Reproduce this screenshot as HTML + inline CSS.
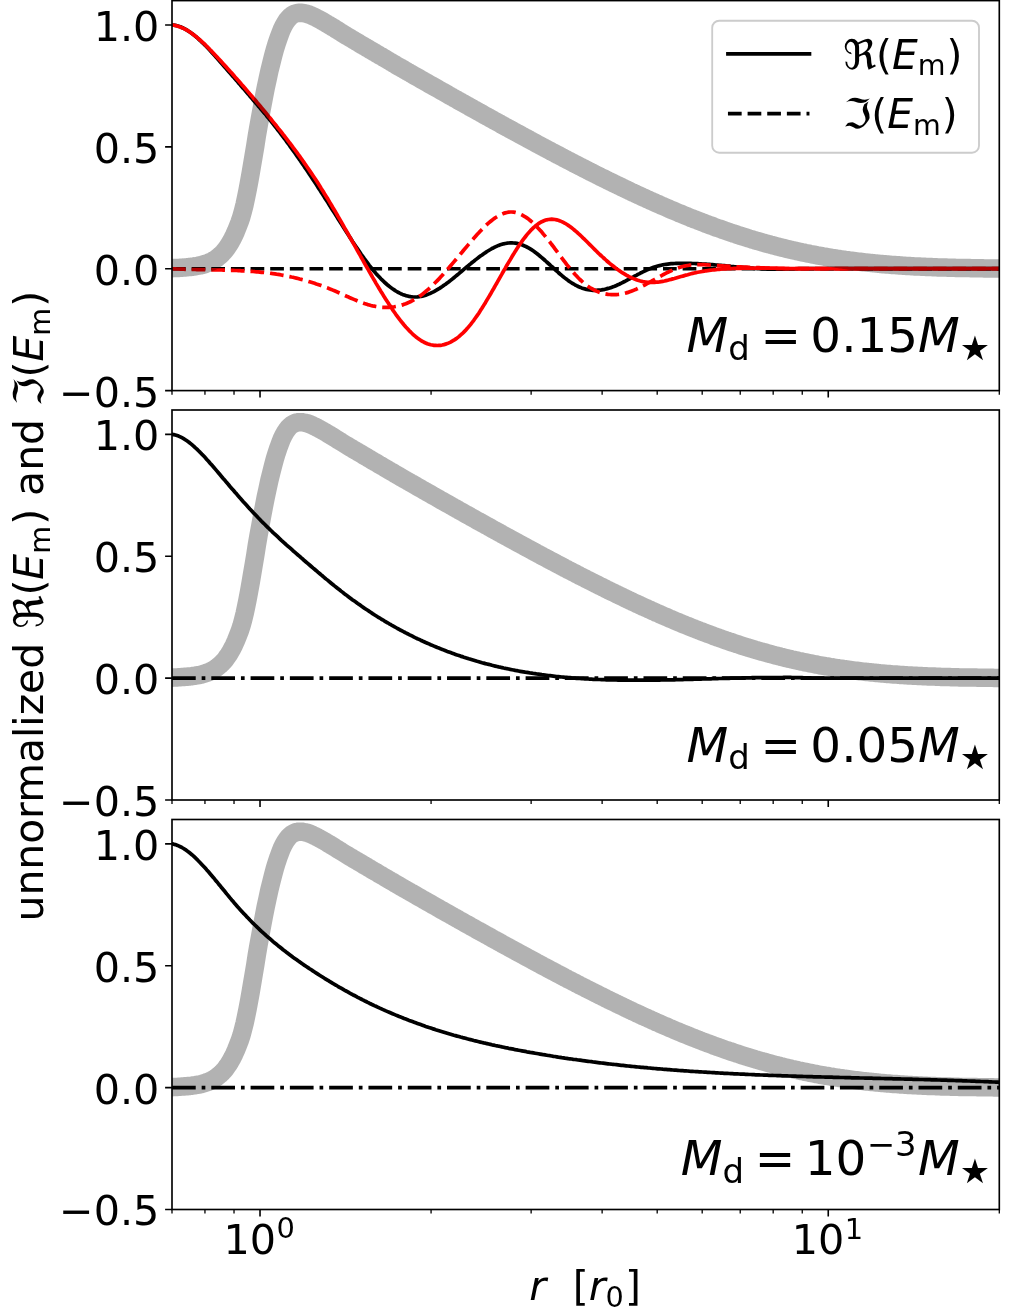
<!DOCTYPE html>
<html lang="en"><head><meta charset="utf-8"><title>Eccentricity eigenmodes</title>
<style>html,body{margin:0;padding:0;background:#fff}svg{display:block}text{white-space:pre}</style></head>
<body>
<svg width="1020" height="1307" viewBox="0 0 1020 1307" font-family='"DejaVu Sans","Liberation Sans",sans-serif' fill="#000">
<rect width="1020" height="1307" fill="#fff"/>
<defs><clipPath id="c0"><rect x="172.0" y="0.6" width="827.3" height="390.0"/></clipPath><clipPath id="c1"><rect x="172.0" y="410.0" width="827.3" height="390.0"/></clipPath><clipPath id="c2"><rect x="172.0" y="819.5" width="827.3" height="390.0"/></clipPath></defs>
<g clip-path="url(#c0)">
<path d="M172.0 25.0 L173.7 25.1 L175.3 25.4 L177.0 25.8 L178.6 26.3 L180.3 26.8 L181.9 27.5 L183.6 28.3 L185.3 29.2 L186.9 30.1 L188.6 31.2 L190.2 32.3 L191.9 33.5 L193.6 34.8 L195.2 36.1 L196.9 37.5 L198.5 39.0 L200.2 40.5 L201.8 42.1 L203.5 43.7 L205.2 45.3 L206.8 47.0 L208.5 48.8 L210.1 50.6 L211.8 52.4 L213.5 54.2 L215.1 56.0 L216.8 57.9 L218.4 59.8 L220.1 61.7 L221.7 63.6 L223.4 65.5 L225.1 67.4 L226.7 69.3 L228.4 71.2 L230.0 73.1 L231.7 75.0 L233.4 76.9 L235.0 78.8 L236.7 80.7 L238.3 82.7 L240.0 84.6 L241.6 86.5 L243.3 88.4 L245.0 90.4 L246.6 92.3 L248.3 94.2 L249.9 96.2 L251.6 98.1 L253.2 100.0 L254.9 102.0 L256.6 103.9 L258.2 105.9 L259.9 107.8 L261.5 109.8 L263.2 111.7 L264.9 113.7 L266.5 115.7 L268.2 117.7 L269.8 119.8 L271.5 121.8 L273.1 123.9 L274.8 126.0 L276.5 128.1 L278.1 130.3 L279.8 132.4 L281.4 134.6 L283.1 136.8 L284.8 139.0 L286.4 141.3 L288.1 143.5 L289.7 145.8 L291.4 148.1 L293.0 150.4 L294.7 152.7 L296.4 155.1 L298.0 157.5 L299.7 159.8 L301.3 162.2 L303.0 164.6 L304.6 167.1 L306.3 169.5 L308.0 172.0 L309.6 174.5 L311.3 177.0 L312.9 179.5 L314.6 182.0 L316.3 184.5 L317.9 187.1 L319.6 189.6 L321.2 192.2 L322.9 194.8 L324.5 197.4 L326.2 200.0 L327.9 202.6 L329.5 205.2 L331.2 207.9 L332.8 210.5 L334.5 213.1 L336.2 215.8 L337.8 218.4 L339.5 221.0 L341.1 223.6 L342.8 226.2 L344.4 228.8 L346.1 231.4 L347.8 234.0 L349.4 236.6 L351.1 239.1 L352.7 241.7 L354.4 244.2 L356.1 246.7 L357.7 249.1 L359.4 251.6 L361.0 254.0 L362.7 256.3 L364.3 258.6 L366.0 260.9 L367.7 263.2 L369.3 265.3 L371.0 267.4 L372.6 269.5 L374.3 271.5 L375.9 273.4 L377.6 275.3 L379.3 277.1 L380.9 278.8 L382.6 280.4 L384.2 282.0 L385.9 283.5 L387.6 285.0 L389.2 286.3 L390.9 287.6 L392.5 288.8 L394.2 289.9 L395.8 291.0 L397.5 292.0 L399.2 292.9 L400.8 293.7 L402.5 294.4 L404.1 295.0 L405.8 295.6 L407.5 296.0 L409.1 296.4 L410.8 296.7 L412.4 296.9 L414.1 297.0 L415.7 297.0 L417.4 296.9 L419.1 296.7 L420.7 296.5 L422.4 296.1 L424.0 295.7 L425.7 295.2 L427.3 294.6 L429.0 293.9 L430.7 293.2 L432.3 292.4 L434.0 291.6 L435.6 290.7 L437.3 289.7 L439.0 288.7 L440.6 287.6 L442.3 286.5 L443.9 285.3 L445.6 284.2 L447.2 282.9 L448.9 281.7 L450.6 280.4 L452.2 279.1 L453.9 277.7 L455.5 276.4 L457.2 275.0 L458.9 273.6 L460.5 272.2 L462.2 270.8 L463.8 269.4 L465.5 268.0 L467.1 266.6 L468.8 265.3 L470.5 263.9 L472.1 262.5 L473.8 261.2 L475.4 259.9 L477.1 258.6 L478.8 257.3 L480.4 256.1 L482.1 254.9 L483.7 253.7 L485.4 252.6 L487.0 251.5 L488.7 250.5 L490.4 249.5 L492.0 248.5 L493.7 247.7 L495.3 246.9 L497.0 246.1 L498.6 245.4 L500.3 244.8 L502.0 244.3 L503.6 243.8 L505.3 243.5 L506.9 243.2 L508.6 243.0 L510.3 242.9 L511.9 242.9 L513.6 243.0 L515.2 243.1 L516.9 243.4 L518.5 243.8 L520.2 244.3 L521.9 244.8 L523.5 245.5 L525.2 246.2 L526.8 247.0 L528.5 247.9 L530.2 248.9 L531.8 249.9 L533.5 251.0 L535.1 252.2 L536.8 253.5 L538.4 254.8 L540.1 256.2 L541.8 257.6 L543.4 259.0 L545.1 260.5 L546.7 262.0 L548.4 263.5 L550.1 265.0 L551.7 266.5 L553.4 268.0 L555.0 269.5 L556.7 271.0 L558.3 272.5 L560.0 274.0 L561.7 275.4 L563.3 276.8 L565.0 278.1 L566.6 279.3 L568.3 280.6 L569.9 281.7 L571.6 282.8 L573.3 283.8 L574.9 284.8 L576.6 285.7 L578.2 286.5 L579.9 287.2 L581.6 287.9 L583.2 288.4 L584.9 288.9 L586.5 289.4 L588.2 289.7 L589.8 290.0 L591.5 290.1 L593.2 290.3 L594.8 290.3 L596.5 290.3 L598.1 290.2 L599.8 290.1 L601.5 289.9 L603.1 289.6 L604.8 289.3 L606.4 288.9 L608.1 288.4 L609.7 288.0 L611.4 287.4 L613.1 286.8 L614.7 286.2 L616.4 285.5 L618.0 284.7 L619.7 284.0 L621.3 283.2 L623.0 282.3 L624.7 281.5 L626.3 280.6 L628.0 279.7 L629.6 278.8 L631.3 277.9 L633.0 277.1 L634.6 276.2 L636.3 275.3 L637.9 274.4 L639.6 273.6 L641.2 272.7 L642.9 271.9 L644.6 271.1 L646.2 270.3 L647.9 269.6 L649.5 268.9 L651.2 268.2 L652.9 267.6 L654.5 267.0 L656.2 266.5 L657.8 266.0 L659.5 265.6 L661.1 265.2 L662.8 264.8 L664.5 264.5 L666.1 264.3 L667.8 264.1 L669.4 263.9 L671.1 263.7 L672.8 263.6 L674.4 263.5 L676.1 263.4 L677.7 263.4 L679.4 263.3 L681.0 263.3 L682.7 263.3 L684.4 263.3 L686.0 263.3 L687.7 263.3 L689.3 263.4 L691.0 263.4 L692.6 263.5 L694.3 263.5 L696.0 263.6 L697.6 263.7 L699.3 263.8 L700.9 263.9 L702.6 264.0 L704.3 264.1 L705.9 264.2 L707.6 264.3 L709.2 264.4 L710.9 264.6 L712.5 264.7 L714.2 264.8 L715.9 265.0 L717.5 265.1 L719.2 265.3 L720.8 265.4 L722.5 265.6 L724.2 265.7 L725.8 265.9 L727.5 266.1 L729.1 266.2 L730.8 266.4 L732.4 266.5 L734.1 266.7 L735.8 266.8 L737.4 267.0 L739.1 267.1 L740.7 267.3 L742.4 267.4 L744.1 267.6 L745.7 267.7 L747.4 267.9 L749.0 268.0 L750.7 268.1 L752.3 268.2 L754.0 268.4 L755.7 268.5 L757.3 268.6 L759.0 268.7 L760.6 268.8 L762.3 268.8 L763.9 268.9 L765.6 269.0 L767.3 269.1 L768.9 269.1 L770.6 269.1 L772.2 269.2 L773.9 269.2 L775.6 269.2 L777.2 269.2 L778.9 269.1 L780.5 269.1 L782.2 269.1 L783.8 269.1 L785.5 269.0 L787.2 269.0 L788.8 269.0 L790.5 268.9 L792.1 268.9 L793.8 268.8 L795.5 268.8 L797.1 268.8 L798.8 268.7 L800.4 268.7 L802.1 268.7 L803.7 268.7 L805.4 268.7 L807.1 268.7 L808.7 268.7 L810.4 268.7 L812.0 268.7 L813.7 268.7 L815.3 268.7 L817.0 268.7 L818.7 268.7 L820.3 268.7 L822.0 268.7 L823.6 268.7 L825.3 268.7 L827.0 268.7 L828.6 268.7 L830.3 268.7 L831.9 268.7 L833.6 268.7 L835.2 268.7 L836.9 268.7 L838.6 268.7 L840.2 268.7 L841.9 268.7 L843.5 268.7 L845.2 268.7 L846.9 268.7 L848.5 268.7 L850.2 268.7 L851.8 268.7 L853.5 268.7 L855.1 268.7 L856.8 268.7 L858.5 268.7 L860.1 268.7 L861.8 268.7 L863.4 268.7 L865.1 268.7 L866.8 268.7 L868.4 268.7 L870.1 268.7 L871.7 268.7 L873.4 268.7 L875.0 268.7 L876.7 268.7 L878.4 268.7 L880.0 268.7 L881.7 268.7 L883.3 268.7 L885.0 268.7 L886.6 268.7 L888.3 268.7 L890.0 268.7 L891.6 268.7 L893.3 268.7 L894.9 268.7 L896.6 268.7 L898.3 268.7 L899.9 268.7 L901.6 268.7 L903.2 268.7 L904.9 268.7 L906.5 268.7 L908.2 268.7 L909.9 268.7 L911.5 268.7 L913.2 268.7 L914.8 268.7 L916.5 268.7 L918.2 268.7 L919.8 268.7 L921.5 268.7 L923.1 268.7 L924.8 268.7 L926.4 268.7 L928.1 268.7 L929.8 268.7 L931.4 268.7 L933.1 268.7 L934.7 268.7 L936.4 268.7 L938.0 268.7 L939.7 268.7 L941.4 268.7 L943.0 268.7 L944.7 268.7 L946.3 268.7 L948.0 268.7 L949.7 268.7 L951.3 268.7 L953.0 268.7 L954.6 268.7 L956.3 268.7 L957.9 268.7 L959.6 268.7 L961.3 268.7 L962.9 268.7 L964.6 268.7 L966.2 268.7 L967.9 268.7 L969.6 268.7 L971.2 268.7 L972.9 268.7 L974.5 268.7 L976.2 268.7 L977.8 268.7 L979.5 268.7 L981.2 268.7 L982.8 268.7 L984.5 268.7 L986.1 268.7 L987.8 268.7 L989.5 268.7 L991.1 268.7 L992.8 268.7 L994.4 268.7 L996.1 268.7 L997.7 268.7 L999.4 268.7" fill="none" stroke="#000" stroke-width="3.71" stroke-linejoin="round" stroke-linecap="square"/>
<path d="M172.0 268.73 L999.3 268.73" fill="none" stroke="#000" stroke-width="3.71" stroke-linejoin="round" stroke-linecap="butt" stroke-dasharray="13.71 5.93"/>
<path d="M172.0 25.0 L173.7 25.2 L175.3 25.5 L177.0 25.9 L178.6 26.4 L180.3 27.0 L181.9 27.7 L183.6 28.4 L185.3 29.3 L186.9 30.2 L188.6 31.2 L190.2 32.3 L191.9 33.5 L193.6 34.7 L195.2 35.9 L196.9 37.3 L198.5 38.7 L200.2 40.1 L201.8 41.6 L203.5 43.2 L205.2 44.7 L206.8 46.4 L208.5 48.0 L210.1 49.7 L211.8 51.4 L213.5 53.2 L215.1 54.9 L216.8 56.7 L218.4 58.5 L220.1 60.3 L221.7 62.1 L223.4 63.9 L225.1 65.8 L226.7 67.6 L228.4 69.4 L230.0 71.3 L231.7 73.1 L233.4 75.0 L235.0 76.9 L236.7 78.7 L238.3 80.6 L240.0 82.5 L241.6 84.4 L243.3 86.3 L245.0 88.2 L246.6 90.1 L248.3 92.1 L249.9 94.0 L251.6 95.9 L253.2 97.9 L254.9 99.8 L256.6 101.8 L258.2 103.8 L259.9 105.7 L261.5 107.7 L263.2 109.7 L264.9 111.7 L266.5 113.7 L268.2 115.8 L269.8 117.8 L271.5 119.8 L273.1 121.9 L274.8 123.9 L276.5 126.0 L278.1 128.1 L279.8 130.1 L281.4 132.2 L283.1 134.4 L284.8 136.5 L286.4 138.6 L288.1 140.8 L289.7 143.0 L291.4 145.2 L293.0 147.4 L294.7 149.6 L296.4 151.8 L298.0 154.1 L299.7 156.4 L301.3 158.7 L303.0 161.0 L304.6 163.4 L306.3 165.8 L308.0 168.2 L309.6 170.6 L311.3 173.1 L312.9 175.5 L314.6 178.0 L316.3 180.6 L317.9 183.1 L319.6 185.7 L321.2 188.4 L322.9 191.0 L324.5 193.7 L326.2 196.4 L327.9 199.1 L329.5 201.9 L331.2 204.7 L332.8 207.5 L334.5 210.3 L336.2 213.1 L337.8 216.0 L339.5 218.9 L341.1 221.7 L342.8 224.6 L344.4 227.6 L346.1 230.5 L347.8 233.4 L349.4 236.3 L351.1 239.3 L352.7 242.2 L354.4 245.2 L356.1 248.1 L357.7 251.1 L359.4 254.0 L361.0 257.0 L362.7 259.9 L364.3 262.8 L366.0 265.8 L367.7 268.7 L369.3 271.6 L371.0 274.5 L372.6 277.4 L374.3 280.2 L375.9 283.1 L377.6 285.9 L379.3 288.7 L380.9 291.4 L382.6 294.1 L384.2 296.8 L385.9 299.5 L387.6 302.1 L389.2 304.6 L390.9 307.1 L392.5 309.6 L394.2 312.0 L395.8 314.3 L397.5 316.6 L399.2 318.8 L400.8 321.0 L402.5 323.0 L404.1 325.0 L405.8 327.0 L407.5 328.8 L409.1 330.6 L410.8 332.2 L412.4 333.8 L414.1 335.3 L415.7 336.7 L417.4 338.0 L419.1 339.2 L420.7 340.3 L422.4 341.3 L424.0 342.2 L425.7 343.0 L427.3 343.7 L429.0 344.2 L430.7 344.7 L432.3 345.0 L434.0 345.3 L435.6 345.4 L437.3 345.5 L439.0 345.4 L440.6 345.3 L442.3 345.0 L443.9 344.6 L445.6 344.1 L447.2 343.6 L448.9 342.9 L450.6 342.1 L452.2 341.2 L453.9 340.2 L455.5 339.1 L457.2 337.9 L458.9 336.6 L460.5 335.2 L462.2 333.7 L463.8 332.1 L465.5 330.4 L467.1 328.6 L468.8 326.6 L470.5 324.6 L472.1 322.5 L473.8 320.3 L475.4 318.0 L477.1 315.6 L478.8 313.2 L480.4 310.6 L482.1 308.0 L483.7 305.4 L485.4 302.7 L487.0 299.9 L488.7 297.1 L490.4 294.3 L492.0 291.4 L493.7 288.5 L495.3 285.6 L497.0 282.7 L498.6 279.8 L500.3 276.8 L502.0 273.9 L503.6 271.0 L505.3 268.1 L506.9 265.2 L508.6 262.4 L510.3 259.6 L511.9 256.8 L513.6 254.1 L515.2 251.4 L516.9 248.8 L518.5 246.3 L520.2 243.8 L521.9 241.4 L523.5 239.2 L525.2 237.0 L526.8 234.9 L528.5 232.9 L530.2 231.1 L531.8 229.3 L533.5 227.7 L535.1 226.3 L536.8 224.9 L538.4 223.7 L540.1 222.7 L541.8 221.7 L543.4 221.0 L545.1 220.3 L546.7 219.8 L548.4 219.5 L550.1 219.3 L551.7 219.2 L553.4 219.3 L555.0 219.5 L556.7 219.9 L558.3 220.3 L560.0 220.9 L561.7 221.6 L563.3 222.4 L565.0 223.3 L566.6 224.3 L568.3 225.4 L569.9 226.5 L571.6 227.8 L573.3 229.1 L574.9 230.5 L576.6 231.9 L578.2 233.4 L579.9 234.9 L581.6 236.5 L583.2 238.1 L584.9 239.7 L586.5 241.3 L588.2 243.0 L589.8 244.6 L591.5 246.3 L593.2 248.0 L594.8 249.6 L596.5 251.3 L598.1 252.9 L599.8 254.5 L601.5 256.0 L603.1 257.5 L604.8 259.0 L606.4 260.5 L608.1 262.0 L609.7 263.4 L611.4 264.7 L613.1 266.0 L614.7 267.3 L616.4 268.6 L618.0 269.8 L619.7 270.9 L621.3 272.1 L623.0 273.1 L624.7 274.1 L626.3 275.1 L628.0 276.0 L629.6 276.9 L631.3 277.7 L633.0 278.4 L634.6 279.1 L636.3 279.7 L637.9 280.3 L639.6 280.8 L641.2 281.2 L642.9 281.6 L644.6 281.9 L646.2 282.2 L647.9 282.3 L649.5 282.4 L651.2 282.5 L652.9 282.4 L654.5 282.4 L656.2 282.2 L657.8 282.1 L659.5 281.9 L661.1 281.6 L662.8 281.3 L664.5 281.0 L666.1 280.6 L667.8 280.2 L669.4 279.8 L671.1 279.4 L672.8 278.9 L674.4 278.5 L676.1 278.0 L677.7 277.5 L679.4 277.0 L681.0 276.5 L682.7 276.1 L684.4 275.6 L686.0 275.1 L687.7 274.7 L689.3 274.2 L691.0 273.8 L692.6 273.4 L694.3 273.0 L696.0 272.6 L697.6 272.3 L699.3 272.0 L700.9 271.7 L702.6 271.4 L704.3 271.1 L705.9 270.8 L707.6 270.6 L709.2 270.4 L710.9 270.2 L712.5 270.0 L714.2 269.8 L715.9 269.6 L717.5 269.4 L719.2 269.3 L720.8 269.2 L722.5 269.0 L724.2 268.9 L725.8 268.8 L727.5 268.7 L729.1 268.6 L730.8 268.6 L732.4 268.5 L734.1 268.4 L735.8 268.4 L737.4 268.3 L739.1 268.3 L740.7 268.3 L742.4 268.2 L744.1 268.2 L745.7 268.2 L747.4 268.2 L749.0 268.1 L750.7 268.1 L752.3 268.1 L754.0 268.1 L755.7 268.1 L757.3 268.1 L759.0 268.1 L760.6 268.1 L762.3 268.1 L763.9 268.1 L765.6 268.1 L767.3 268.1 L768.9 268.1 L770.6 268.1 L772.2 268.1 L773.9 268.2 L775.6 268.2 L777.2 268.3 L778.9 268.3 L780.5 268.3 L782.2 268.4 L783.8 268.4 L785.5 268.5 L787.2 268.5 L788.8 268.5 L790.5 268.6 L792.1 268.6 L793.8 268.6 L795.5 268.7 L797.1 268.7 L798.8 268.7 L800.4 268.7 L802.1 268.7 L803.7 268.7 L805.4 268.7 L807.1 268.7 L808.7 268.7 L810.4 268.7 L812.0 268.7 L813.7 268.7 L815.3 268.7 L817.0 268.7 L818.7 268.7 L820.3 268.7 L822.0 268.7 L823.6 268.7 L825.3 268.7 L827.0 268.7 L828.6 268.7 L830.3 268.7 L831.9 268.7 L833.6 268.7 L835.2 268.7 L836.9 268.7 L838.6 268.7 L840.2 268.7 L841.9 268.7 L843.5 268.7 L845.2 268.7 L846.9 268.7 L848.5 268.7 L850.2 268.7 L851.8 268.7 L853.5 268.7 L855.1 268.7 L856.8 268.7 L858.5 268.7 L860.1 268.7 L861.8 268.7 L863.4 268.7 L865.1 268.7 L866.8 268.7 L868.4 268.7 L870.1 268.7 L871.7 268.7 L873.4 268.7 L875.0 268.7 L876.7 268.7 L878.4 268.7 L880.0 268.7 L881.7 268.7 L883.3 268.7 L885.0 268.7 L886.6 268.7 L888.3 268.7 L890.0 268.7 L891.6 268.7 L893.3 268.7 L894.9 268.7 L896.6 268.7 L898.3 268.7 L899.9 268.7 L901.6 268.7 L903.2 268.7 L904.9 268.7 L906.5 268.7 L908.2 268.7 L909.9 268.7 L911.5 268.7 L913.2 268.7 L914.8 268.7 L916.5 268.7 L918.2 268.7 L919.8 268.7 L921.5 268.7 L923.1 268.7 L924.8 268.7 L926.4 268.7 L928.1 268.7 L929.8 268.7 L931.4 268.7 L933.1 268.7 L934.7 268.7 L936.4 268.7 L938.0 268.7 L939.7 268.7 L941.4 268.7 L943.0 268.7 L944.7 268.7 L946.3 268.7 L948.0 268.7 L949.7 268.7 L951.3 268.7 L953.0 268.7 L954.6 268.7 L956.3 268.7 L957.9 268.7 L959.6 268.7 L961.3 268.7 L962.9 268.7 L964.6 268.7 L966.2 268.7 L967.9 268.7 L969.6 268.7 L971.2 268.7 L972.9 268.7 L974.5 268.7 L976.2 268.7 L977.8 268.7 L979.5 268.7 L981.2 268.7 L982.8 268.7 L984.5 268.7 L986.1 268.7 L987.8 268.7 L989.5 268.7 L991.1 268.7 L992.8 268.7 L994.4 268.7 L996.1 268.7 L997.7 268.7 L999.4 268.7" fill="none" stroke="#f00" stroke-width="3.71" stroke-linejoin="round" stroke-linecap="square"/>
<path d="M172.0 268.7 L173.7 268.8 L175.3 268.9 L177.0 269.0 L178.6 269.0 L180.3 269.1 L181.9 269.2 L183.6 269.2 L185.3 269.3 L186.9 269.3 L188.6 269.4 L190.2 269.4 L191.9 269.5 L193.6 269.5 L195.2 269.5 L196.9 269.6 L198.5 269.6 L200.2 269.6 L201.8 269.7 L203.5 269.7 L205.2 269.7 L206.8 269.8 L208.5 269.8 L210.1 269.8 L211.8 269.8 L213.5 269.9 L215.1 269.9 L216.8 269.9 L218.4 270.0 L220.1 270.0 L221.7 270.0 L223.4 270.1 L225.1 270.1 L226.7 270.2 L228.4 270.2 L230.0 270.3 L231.7 270.3 L233.4 270.4 L235.0 270.5 L236.7 270.5 L238.3 270.6 L240.0 270.7 L241.6 270.8 L243.3 270.9 L245.0 270.9 L246.6 271.0 L248.3 271.2 L249.9 271.3 L251.6 271.4 L253.2 271.5 L254.9 271.7 L256.6 271.8 L258.2 271.9 L259.9 272.1 L261.5 272.3 L263.2 272.4 L264.9 272.6 L266.5 272.8 L268.2 273.0 L269.8 273.2 L271.5 273.4 L273.1 273.7 L274.8 273.9 L276.5 274.2 L278.1 274.4 L279.8 274.7 L281.4 275.0 L283.1 275.3 L284.8 275.6 L286.4 275.9 L288.1 276.3 L289.7 276.6 L291.4 277.0 L293.0 277.3 L294.7 277.7 L296.4 278.1 L298.0 278.5 L299.7 279.0 L301.3 279.4 L303.0 279.8 L304.6 280.3 L306.3 280.8 L308.0 281.3 L309.6 281.8 L311.3 282.3 L312.9 282.8 L314.6 283.3 L316.3 283.9 L317.9 284.4 L319.6 285.0 L321.2 285.6 L322.9 286.2 L324.5 286.8 L326.2 287.5 L327.9 288.1 L329.5 288.8 L331.2 289.4 L332.8 290.1 L334.5 290.8 L336.2 291.5 L337.8 292.2 L339.5 293.0 L341.1 293.7 L342.8 294.5 L344.4 295.2 L346.1 296.0 L347.8 296.7 L349.4 297.5 L351.1 298.2 L352.7 298.9 L354.4 299.6 L356.1 300.3 L357.7 301.0 L359.4 301.7 L361.0 302.3 L362.7 302.9 L364.3 303.5 L366.0 304.0 L367.7 304.6 L369.3 305.0 L371.0 305.5 L372.6 305.9 L374.3 306.2 L375.9 306.5 L377.6 306.8 L379.3 307.0 L380.9 307.2 L382.6 307.3 L384.2 307.4 L385.9 307.4 L387.6 307.4 L389.2 307.3 L390.9 307.2 L392.5 307.0 L394.2 306.8 L395.8 306.5 L397.5 306.2 L399.2 305.8 L400.8 305.4 L402.5 304.9 L404.1 304.3 L405.8 303.7 L407.5 303.0 L409.1 302.3 L410.8 301.5 L412.4 300.7 L414.1 299.7 L415.7 298.8 L417.4 297.7 L419.1 296.6 L420.7 295.4 L422.4 294.2 L424.0 292.9 L425.7 291.5 L427.3 290.1 L429.0 288.7 L430.7 287.1 L432.3 285.6 L434.0 283.9 L435.6 282.3 L437.3 280.6 L439.0 278.9 L440.6 277.1 L442.3 275.3 L443.9 273.4 L445.6 271.6 L447.2 269.7 L448.9 267.8 L450.6 265.8 L452.2 263.9 L453.9 261.9 L455.5 260.0 L457.2 258.0 L458.9 256.0 L460.5 254.0 L462.2 252.0 L463.8 250.0 L465.5 248.1 L467.1 246.1 L468.8 244.1 L470.5 242.2 L472.1 240.2 L473.8 238.3 L475.4 236.5 L477.1 234.6 L478.8 232.8 L480.4 231.0 L482.1 229.3 L483.7 227.6 L485.4 226.0 L487.0 224.4 L488.7 222.9 L490.4 221.5 L492.0 220.2 L493.7 218.9 L495.3 217.8 L497.0 216.7 L498.6 215.7 L500.3 214.8 L502.0 214.1 L503.6 213.4 L505.3 212.9 L506.9 212.5 L508.6 212.2 L510.3 212.0 L511.9 212.0 L513.6 212.2 L515.2 212.4 L516.9 212.8 L518.5 213.4 L520.2 214.1 L521.9 214.9 L523.5 215.8 L525.2 216.8 L526.8 217.9 L528.5 219.1 L530.2 220.5 L531.8 221.9 L533.5 223.4 L535.1 225.0 L536.8 226.7 L538.4 228.4 L540.1 230.2 L541.8 232.1 L543.4 234.1 L545.1 236.1 L546.7 238.1 L548.4 240.2 L550.1 242.3 L551.7 244.5 L553.4 246.7 L555.0 248.9 L556.7 251.1 L558.3 253.3 L560.0 255.6 L561.7 257.8 L563.3 260.0 L565.0 262.1 L566.6 264.3 L568.3 266.4 L569.9 268.4 L571.6 270.5 L573.3 272.4 L574.9 274.3 L576.6 276.1 L578.2 277.8 L579.9 279.5 L581.6 281.0 L583.2 282.5 L584.9 283.9 L586.5 285.2 L588.2 286.4 L589.8 287.5 L591.5 288.5 L593.2 289.4 L594.8 290.3 L596.5 291.1 L598.1 291.8 L599.8 292.4 L601.5 292.9 L603.1 293.4 L604.8 293.8 L606.4 294.1 L608.1 294.4 L609.7 294.5 L611.4 294.7 L613.1 294.7 L614.7 294.7 L616.4 294.6 L618.0 294.5 L619.7 294.3 L621.3 294.0 L623.0 293.7 L624.7 293.3 L626.3 292.9 L628.0 292.4 L629.6 291.8 L631.3 291.2 L633.0 290.6 L634.6 289.9 L636.3 289.2 L637.9 288.4 L639.6 287.6 L641.2 286.8 L642.9 285.9 L644.6 285.1 L646.2 284.2 L647.9 283.2 L649.5 282.3 L651.2 281.4 L652.9 280.4 L654.5 279.5 L656.2 278.5 L657.8 277.6 L659.5 276.7 L661.1 275.8 L662.8 274.9 L664.5 274.0 L666.1 273.1 L667.8 272.3 L669.4 271.5 L671.1 270.7 L672.8 269.9 L674.4 269.2 L676.1 268.6 L677.7 268.0 L679.4 267.4 L681.0 266.9 L682.7 266.5 L684.4 266.1 L686.0 265.8 L687.7 265.5 L689.3 265.2 L691.0 265.0 L692.6 264.9 L694.3 264.8 L696.0 264.7 L697.6 264.7 L699.3 264.6 L700.9 264.7 L702.6 264.7 L704.3 264.7 L705.9 264.8 L707.6 264.9 L709.2 265.0 L710.9 265.1 L712.5 265.2 L714.2 265.4 L715.9 265.5 L717.5 265.6 L719.2 265.7 L720.8 265.8 L722.5 265.9 L724.2 266.0 L725.8 266.1 L727.5 266.2 L729.1 266.3 L730.8 266.4 L732.4 266.5 L734.1 266.6 L735.8 266.7 L737.4 266.8 L739.1 266.8 L740.7 266.9 L742.4 267.0 L744.1 267.1 L745.7 267.2 L747.4 267.2 L749.0 267.3 L750.7 267.4 L752.3 267.5 L754.0 267.5 L755.7 267.6 L757.3 267.7 L759.0 267.7 L760.6 267.8 L762.3 267.8 L763.9 267.9 L765.6 268.0 L767.3 268.0 L768.9 268.1 L770.6 268.1 L772.2 268.2 L773.9 268.3 L775.6 268.3 L777.2 268.4 L778.9 268.5 L780.5 268.5 L782.2 268.5 L783.8 268.6 L785.5 268.6 L787.2 268.6 L788.8 268.7 L790.5 268.7 L792.1 268.7 L793.8 268.7 L795.5 268.7 L797.1 268.7 L798.8 268.7 L800.4 268.7 L802.1 268.7 L803.7 268.7 L805.4 268.7 L807.1 268.7 L808.7 268.7 L810.4 268.7 L812.0 268.7 L813.7 268.7 L815.3 268.7 L817.0 268.7 L818.7 268.7 L820.3 268.7 L822.0 268.7 L823.6 268.7 L825.3 268.7 L827.0 268.7 L828.6 268.7 L830.3 268.7 L831.9 268.7 L833.6 268.7 L835.2 268.7 L836.9 268.7 L838.6 268.7 L840.2 268.7 L841.9 268.7 L843.5 268.7 L845.2 268.7 L846.9 268.7 L848.5 268.7 L850.2 268.7 L851.8 268.7 L853.5 268.7 L855.1 268.7 L856.8 268.7 L858.5 268.7 L860.1 268.7 L861.8 268.7 L863.4 268.7 L865.1 268.7 L866.8 268.7 L868.4 268.7 L870.1 268.7 L871.7 268.7 L873.4 268.7 L875.0 268.7 L876.7 268.7 L878.4 268.7 L880.0 268.7 L881.7 268.7 L883.3 268.7 L885.0 268.7 L886.6 268.7 L888.3 268.7 L890.0 268.7 L891.6 268.7 L893.3 268.7 L894.9 268.7 L896.6 268.7 L898.3 268.7 L899.9 268.7 L901.6 268.7 L903.2 268.7 L904.9 268.7 L906.5 268.7 L908.2 268.7 L909.9 268.7 L911.5 268.7 L913.2 268.7 L914.8 268.7 L916.5 268.7 L918.2 268.7 L919.8 268.7 L921.5 268.7 L923.1 268.7 L924.8 268.7 L926.4 268.7 L928.1 268.7 L929.8 268.7 L931.4 268.7 L933.1 268.7 L934.7 268.7 L936.4 268.7 L938.0 268.7 L939.7 268.7 L941.4 268.7 L943.0 268.7 L944.7 268.7 L946.3 268.7 L948.0 268.7 L949.7 268.7 L951.3 268.7 L953.0 268.7 L954.6 268.7 L956.3 268.7 L957.9 268.7 L959.6 268.7 L961.3 268.7 L962.9 268.7 L964.6 268.7 L966.2 268.7 L967.9 268.7 L969.6 268.7 L971.2 268.7 L972.9 268.7 L974.5 268.7 L976.2 268.7 L977.8 268.7 L979.5 268.7 L981.2 268.7 L982.8 268.7 L984.5 268.7 L986.1 268.7 L987.8 268.7 L989.5 268.7 L991.1 268.7 L992.8 268.7 L994.4 268.7 L996.1 268.7 L997.7 268.7 L999.4 268.7" fill="none" stroke="#f00" stroke-width="3.71" stroke-linejoin="round" stroke-linecap="butt" stroke-dasharray="13.71 5.93"/>
<path d="M172.0 268.2 L173.7 268.1 L175.3 268.0 L177.0 268.0 L178.6 267.9 L180.3 267.8 L181.9 267.7 L183.6 267.6 L185.3 267.4 L186.9 267.3 L188.6 267.1 L190.2 267.0 L191.9 266.8 L193.6 266.5 L195.2 266.3 L196.9 266.0 L198.5 265.7 L200.2 265.4 L201.8 265.0 L203.5 264.5 L205.2 264.0 L206.8 263.4 L208.5 262.8 L210.1 262.1 L211.8 261.3 L213.4 260.4 L215.1 259.4 L216.8 258.2 L218.4 256.9 L220.1 255.5 L221.8 253.9 L223.6 252.0 L225.3 250.0 L227.0 247.7 L228.8 245.1 L230.5 242.2 L232.3 239.0 L234.1 235.4 L235.9 231.4 L237.7 226.9 L239.6 222.0 L241.4 216.7 L243.0 210.8 L244.6 204.4 L246.1 197.4 L247.6 190.0 L249.1 182.0 L250.6 173.6 L252.1 164.7 L253.7 155.4 L255.3 145.9 L256.8 136.1 L258.5 126.3 L260.3 116.4 L262.1 106.7 L263.9 97.2 L265.7 88.0 L267.6 79.2 L269.4 70.9 L271.3 63.2 L273.1 56.0 L274.9 49.4 L276.7 43.5 L278.5 38.2 L280.2 33.6 L281.8 29.5 L283.5 26.0 L285.2 23.0 L286.9 20.4 L288.6 18.3 L290.2 16.6 L291.9 15.3 L293.6 14.3 L295.2 13.6 L296.9 13.1 L298.5 12.8 L300.2 12.8 L301.9 12.8 L303.5 13.1 L305.2 13.4 L306.8 13.8 L308.4 14.3 L310.0 14.9 L311.6 15.6 L313.1 16.3 L314.7 17.0 L316.3 17.8 L317.8 18.6 L319.4 19.5 L321.0 20.3 L322.5 21.2 L324.1 22.1 L325.7 23.0 L327.2 24.0 L328.8 24.9 L330.4 25.8 L331.9 26.8 L333.5 27.7 L335.1 28.7 L336.6 29.7 L338.2 30.7 L339.8 31.6 L341.3 32.6 L342.9 33.6 L344.5 34.6 L346.1 35.6 L347.7 36.5 L349.4 37.5 L351.1 38.5 L352.7 39.5 L354.4 40.5 L356.0 41.5 L357.7 42.4 L359.3 43.4 L361.0 44.4 L362.7 45.4 L364.3 46.4 L366.0 47.3 L367.6 48.3 L369.3 49.3 L370.9 50.3 L372.6 51.3 L374.3 52.2 L375.9 53.2 L377.6 54.2 L379.2 55.2 L380.9 56.1 L382.6 57.1 L384.2 58.1 L385.9 59.1 L387.5 60.0 L389.2 61.0 L390.8 62.0 L392.5 62.9 L394.2 63.9 L395.8 64.9 L397.5 65.9 L399.1 66.8 L400.8 67.8 L402.5 68.7 L404.1 69.7 L405.8 70.6 L407.4 71.6 L409.1 72.5 L410.7 73.5 L412.4 74.4 L414.1 75.4 L415.7 76.3 L417.4 77.3 L419.0 78.2 L420.7 79.2 L422.3 80.1 L424.0 81.1 L425.7 82.0 L427.3 82.9 L429.0 83.9 L430.6 84.8 L432.3 85.8 L434.0 86.7 L435.6 87.6 L437.3 88.6 L438.9 89.5 L440.6 90.5 L442.2 91.4 L443.9 92.3 L445.6 93.3 L447.2 94.2 L448.9 95.2 L450.5 96.1 L452.2 97.0 L453.8 98.0 L455.5 98.9 L457.2 99.8 L458.8 100.8 L460.5 101.7 L462.1 102.6 L463.8 103.5 L465.5 104.5 L467.1 105.4 L468.8 106.3 L470.4 107.3 L472.1 108.2 L473.7 109.1 L475.4 110.0 L477.1 111.0 L478.7 111.9 L480.4 112.8 L482.0 113.7 L483.7 114.7 L485.3 115.6 L487.0 116.5 L488.7 117.4 L490.3 118.3 L492.0 119.3 L493.6 120.2 L495.3 121.1 L497.0 122.0 L498.6 122.9 L500.3 123.8 L501.9 124.8 L503.6 125.7 L505.2 126.6 L506.9 127.5 L508.6 128.4 L510.2 129.3 L511.9 130.2 L513.5 131.1 L515.2 132.0 L516.8 132.9 L518.5 133.8 L520.2 134.7 L521.8 135.6 L523.5 136.5 L525.1 137.4 L526.8 138.3 L528.5 139.2 L530.1 140.1 L531.8 141.0 L533.4 141.9 L535.1 142.8 L536.7 143.7 L538.4 144.6 L540.1 145.5 L541.7 146.4 L543.4 147.3 L545.0 148.1 L546.7 149.0 L548.3 149.9 L550.0 150.8 L551.7 151.7 L553.3 152.5 L555.0 153.4 L556.6 154.3 L558.3 155.2 L560.0 156.0 L561.6 156.9 L563.3 157.8 L564.9 158.7 L566.6 159.5 L568.2 160.4 L569.9 161.2 L571.6 162.1 L573.2 163.0 L574.9 163.8 L576.5 164.7 L578.2 165.5 L579.8 166.4 L581.5 167.2 L583.2 168.1 L584.8 168.9 L586.5 169.8 L588.1 170.6 L589.8 171.5 L591.5 172.3 L593.1 173.1 L594.8 174.0 L596.4 174.8 L598.1 175.6 L599.7 176.5 L601.4 177.3 L603.1 178.1 L604.7 178.9 L606.4 179.8 L608.0 180.6 L609.7 181.4 L611.3 182.2 L613.0 183.0 L614.7 183.8 L616.3 184.6 L618.0 185.4 L619.6 186.2 L621.3 187.0 L623.0 187.8 L624.6 188.6 L626.3 189.4 L627.9 190.2 L629.6 191.0 L631.2 191.8 L632.9 192.6 L634.6 193.3 L636.2 194.1 L637.9 194.9 L639.5 195.6 L641.2 196.4 L642.8 197.2 L644.5 197.9 L646.2 198.7 L647.8 199.4 L649.5 200.2 L651.1 200.9 L652.8 201.7 L654.5 202.4 L656.1 203.2 L657.8 203.9 L659.4 204.6 L661.1 205.4 L662.7 206.1 L664.4 206.8 L666.1 207.5 L667.7 208.2 L669.4 209.0 L671.0 209.7 L672.7 210.4 L674.3 211.1 L676.0 211.8 L677.7 212.5 L679.3 213.2 L681.0 213.8 L682.6 214.5 L684.3 215.2 L686.0 215.9 L687.6 216.5 L689.3 217.2 L690.9 217.9 L692.6 218.5 L694.2 219.2 L695.9 219.8 L697.6 220.5 L699.2 221.1 L700.9 221.8 L702.5 222.4 L704.2 223.0 L705.8 223.7 L707.5 224.3 L709.2 224.9 L710.8 225.5 L712.5 226.1 L714.1 226.8 L715.8 227.4 L717.5 228.0 L719.1 228.5 L720.8 229.1 L722.4 229.7 L724.1 230.3 L725.7 230.9 L727.4 231.4 L729.1 232.0 L730.7 232.6 L732.4 233.1 L734.0 233.7 L735.7 234.2 L737.3 234.8 L739.0 235.3 L740.7 235.9 L742.3 236.4 L744.0 236.9 L745.6 237.4 L747.3 237.9 L749.0 238.5 L750.6 239.0 L752.3 239.5 L753.9 240.0 L755.6 240.5 L757.2 240.9 L758.9 241.4 L760.6 241.9 L762.2 242.4 L763.9 242.8 L765.5 243.3 L767.2 243.8 L768.8 244.2 L770.5 244.7 L772.2 245.1 L773.8 245.6 L775.5 246.0 L777.1 246.4 L778.8 246.8 L780.5 247.3 L782.1 247.7 L783.8 248.1 L785.4 248.5 L787.1 248.9 L788.7 249.3 L790.4 249.7 L792.1 250.1 L793.7 250.4 L795.4 250.8 L797.0 251.2 L798.7 251.6 L800.4 251.9 L802.0 252.3 L803.7 252.6 L805.3 253.0 L807.0 253.3 L808.6 253.6 L810.3 254.0 L812.0 254.3 L813.6 254.6 L815.3 254.9 L816.9 255.3 L818.6 255.6 L820.2 255.9 L821.9 256.2 L823.6 256.5 L825.2 256.8 L826.9 257.0 L828.5 257.3 L830.2 257.6 L831.9 257.9 L833.5 258.1 L835.2 258.4 L836.8 258.7 L838.5 258.9 L840.1 259.2 L841.8 259.4 L843.5 259.6 L845.1 259.9 L846.8 260.1 L848.4 260.3 L850.1 260.6 L851.7 260.8 L853.4 261.0 L855.1 261.2 L856.7 261.4 L858.4 261.6 L860.0 261.8 L861.7 262.0 L863.4 262.2 L865.0 262.4 L866.7 262.6 L868.3 262.7 L870.0 262.9 L871.6 263.1 L873.3 263.2 L875.0 263.4 L876.6 263.6 L878.3 263.7 L879.9 263.9 L881.6 264.0 L883.2 264.2 L884.9 264.3 L886.6 264.5 L888.2 264.6 L889.9 264.7 L891.5 264.9 L893.2 265.0 L894.9 265.1 L896.5 265.2 L898.2 265.3 L899.8 265.5 L901.5 265.6 L903.1 265.7 L904.8 265.8 L906.5 265.9 L908.1 266.0 L909.8 266.1 L911.4 266.2 L913.1 266.3 L914.7 266.4 L916.4 266.4 L918.1 266.5 L919.7 266.6 L921.4 266.7 L923.0 266.8 L924.7 266.8 L926.4 266.9 L928.0 267.0 L929.7 267.1 L931.3 267.1 L933.0 267.2 L934.6 267.2 L936.3 267.3 L938.0 267.4 L939.6 267.4 L941.3 267.5 L942.9 267.5 L944.6 267.6 L946.2 267.6 L947.9 267.7 L949.6 267.7 L951.2 267.8 L952.9 267.8 L954.5 267.8 L956.2 267.9 L957.9 267.9 L959.5 268.0 L961.2 268.0 L962.8 268.0 L964.5 268.1 L966.1 268.1 L967.8 268.1 L969.5 268.1 L971.1 268.2 L972.8 268.2 L974.4 268.2 L976.1 268.2 L977.7 268.3 L979.4 268.3 L981.1 268.3 L982.7 268.3 L984.4 268.4 L986.0 268.4 L987.7 268.4 L989.4 268.4 L991.0 268.4 L992.7 268.4 L994.3 268.5 L996.0 268.5 L997.6 268.5 L999.3 268.5" fill="none" stroke="#000" stroke-width="18.53" stroke-linejoin="round" stroke-linecap="square" stroke-opacity="0.3"/>
</g>
<path d="M260.02 390.6 v6.90 M828.25 390.6 v6.90" stroke="#000" stroke-width="1.60" fill="none"/>
<path d="M172.00 390.6 v4.10 M204.95 390.6 v4.10 M234.02 390.6 v4.10 M431.07 390.6 v4.10 M531.13 390.6 v4.10 M602.13 390.6 v4.10 M657.19 390.6 v4.10 M702.19 390.6 v4.10 M740.23 390.6 v4.10 M773.18 390.6 v4.10 M802.25 390.6 v4.10 M999.30 390.6 v4.10" stroke="#000" stroke-width="1.30" fill="none"/>
<path d="M172.0 390.60 h-6.90 M172.0 268.73 h-6.90 M172.0 146.85 h-6.90 M172.0 24.98 h-6.90" stroke="#000" stroke-width="1.60" fill="none"/>
<rect x="172.0" y="0.6" width="827.3" height="390.0" fill="none" stroke="#000" stroke-width="1.65"/>
<text x="159.33" y="406.59" font-size="41.3" text-anchor="end">−0.5</text>
<text x="159.33" y="284.72" font-size="41.3" text-anchor="end">0.0</text>
<text x="159.33" y="162.84" font-size="41.3" text-anchor="end">0.5</text>
<text x="159.33" y="40.97" font-size="41.3" text-anchor="end">1.0</text>
<g clip-path="url(#c1)">
<path d="M172.0 434.4 L173.7 434.6 L175.3 435.0 L177.0 435.5 L178.6 436.1 L180.3 436.9 L181.9 437.7 L183.6 438.6 L185.3 439.7 L186.9 440.8 L188.6 442.0 L190.2 443.3 L191.9 444.6 L193.6 446.1 L195.2 447.6 L196.9 449.1 L198.5 450.7 L200.2 452.4 L201.8 454.1 L203.5 455.8 L205.2 457.6 L206.8 459.5 L208.5 461.3 L210.1 463.2 L211.8 465.1 L213.5 467.0 L215.1 468.9 L216.8 470.9 L218.4 472.8 L220.1 474.8 L221.7 476.7 L223.4 478.7 L225.1 480.6 L226.7 482.6 L228.4 484.5 L230.0 486.5 L231.7 488.4 L233.4 490.3 L235.0 492.2 L236.7 494.1 L238.3 496.0 L240.0 497.9 L241.6 499.8 L243.3 501.7 L245.0 503.5 L246.6 505.3 L248.3 507.2 L249.9 509.0 L251.6 510.8 L253.2 512.6 L254.9 514.3 L256.6 516.1 L258.2 517.8 L259.9 519.5 L261.5 521.2 L263.2 522.9 L264.9 524.5 L266.5 526.2 L268.2 527.8 L269.8 529.4 L271.5 531.0 L273.1 532.6 L274.8 534.1 L276.5 535.7 L278.1 537.2 L279.8 538.8 L281.4 540.3 L283.1 541.8 L284.8 543.3 L286.4 544.8 L288.1 546.3 L289.7 547.7 L291.4 549.2 L293.0 550.7 L294.7 552.1 L296.4 553.6 L298.0 555.0 L299.7 556.4 L301.3 557.9 L303.0 559.3 L304.6 560.8 L306.3 562.2 L308.0 563.6 L309.6 565.0 L311.3 566.5 L312.9 567.9 L314.6 569.3 L316.3 570.7 L317.9 572.1 L319.6 573.5 L321.2 574.9 L322.9 576.3 L324.5 577.7 L326.2 579.1 L327.9 580.4 L329.5 581.8 L331.2 583.2 L332.8 584.5 L334.5 585.9 L336.2 587.2 L337.8 588.5 L339.5 589.8 L341.1 591.1 L342.8 592.4 L344.4 593.7 L346.1 594.9 L347.8 596.2 L349.4 597.4 L351.1 598.7 L352.7 599.9 L354.4 601.1 L356.1 602.3 L357.7 603.5 L359.4 604.6 L361.0 605.8 L362.7 607.0 L364.3 608.1 L366.0 609.2 L367.7 610.3 L369.3 611.4 L371.0 612.5 L372.6 613.6 L374.3 614.7 L375.9 615.7 L377.6 616.8 L379.3 617.8 L380.9 618.8 L382.6 619.8 L384.2 620.8 L385.9 621.8 L387.6 622.8 L389.2 623.8 L390.9 624.7 L392.5 625.7 L394.2 626.6 L395.8 627.5 L397.5 628.5 L399.2 629.4 L400.8 630.3 L402.5 631.1 L404.1 632.0 L405.8 632.9 L407.5 633.7 L409.1 634.6 L410.8 635.4 L412.4 636.2 L414.1 637.1 L415.7 637.9 L417.4 638.7 L419.1 639.4 L420.7 640.2 L422.4 641.0 L424.0 641.7 L425.7 642.5 L427.3 643.2 L429.0 643.9 L430.7 644.7 L432.3 645.4 L434.0 646.1 L435.6 646.8 L437.3 647.5 L439.0 648.1 L440.6 648.8 L442.3 649.4 L443.9 650.1 L445.6 650.7 L447.2 651.4 L448.9 652.0 L450.6 652.6 L452.2 653.2 L453.9 653.8 L455.5 654.4 L457.2 655.0 L458.9 655.5 L460.5 656.1 L462.2 656.6 L463.8 657.2 L465.5 657.7 L467.1 658.2 L468.8 658.8 L470.5 659.3 L472.1 659.8 L473.8 660.3 L475.4 660.8 L477.1 661.3 L478.8 661.7 L480.4 662.2 L482.1 662.7 L483.7 663.1 L485.4 663.6 L487.0 664.0 L488.7 664.4 L490.4 664.8 L492.0 665.3 L493.7 665.7 L495.3 666.1 L497.0 666.5 L498.6 666.9 L500.3 667.2 L502.0 667.6 L503.6 668.0 L505.3 668.3 L506.9 668.7 L508.6 669.0 L510.3 669.4 L511.9 669.7 L513.6 670.0 L515.2 670.4 L516.9 670.7 L518.5 671.0 L520.2 671.3 L521.9 671.6 L523.5 671.9 L525.2 672.2 L526.8 672.4 L528.5 672.7 L530.2 673.0 L531.8 673.2 L533.5 673.5 L535.1 673.7 L536.8 674.0 L538.4 674.2 L540.1 674.4 L541.8 674.7 L543.4 674.9 L545.1 675.1 L546.7 675.3 L548.4 675.5 L550.1 675.7 L551.7 675.9 L553.4 676.1 L555.0 676.3 L556.7 676.5 L558.3 676.6 L560.0 676.8 L561.7 677.0 L563.3 677.1 L565.0 677.3 L566.6 677.4 L568.3 677.6 L569.9 677.7 L571.6 677.9 L573.3 678.0 L574.9 678.1 L576.6 678.3 L578.2 678.4 L579.9 678.5 L581.6 678.6 L583.2 678.7 L584.9 678.8 L586.5 678.9 L588.2 679.0 L589.8 679.1 L591.5 679.2 L593.2 679.3 L594.8 679.3 L596.5 679.4 L598.1 679.5 L599.8 679.5 L601.5 679.6 L603.1 679.7 L604.8 679.7 L606.4 679.8 L608.1 679.8 L609.7 679.9 L611.4 679.9 L613.1 680.0 L614.7 680.0 L616.4 680.0 L618.0 680.1 L619.7 680.1 L621.3 680.1 L623.0 680.1 L624.7 680.2 L626.3 680.2 L628.0 680.2 L629.6 680.2 L631.3 680.2 L633.0 680.2 L634.6 680.2 L636.3 680.2 L637.9 680.2 L639.6 680.2 L641.2 680.2 L642.9 680.2 L644.6 680.2 L646.2 680.2 L647.9 680.2 L649.5 680.2 L651.2 680.2 L652.9 680.1 L654.5 680.1 L656.2 680.1 L657.8 680.1 L659.5 680.1 L661.1 680.0 L662.8 680.0 L664.5 680.0 L666.1 679.9 L667.8 679.9 L669.4 679.9 L671.1 679.8 L672.8 679.8 L674.4 679.8 L676.1 679.7 L677.7 679.7 L679.4 679.6 L681.0 679.6 L682.7 679.6 L684.4 679.5 L686.0 679.5 L687.7 679.4 L689.3 679.4 L691.0 679.3 L692.6 679.3 L694.3 679.2 L696.0 679.2 L697.6 679.2 L699.3 679.1 L700.9 679.1 L702.6 679.0 L704.3 679.0 L705.9 678.9 L707.6 678.9 L709.2 678.8 L710.9 678.8 L712.5 678.7 L714.2 678.7 L715.9 678.6 L717.5 678.6 L719.2 678.5 L720.8 678.5 L722.5 678.4 L724.2 678.4 L725.8 678.3 L727.5 678.3 L729.1 678.3 L730.8 678.2 L732.4 678.2 L734.1 678.1 L735.8 678.1 L737.4 678.1 L739.1 678.0 L740.7 678.0 L742.4 677.9 L744.1 677.9 L745.7 677.9 L747.4 677.8 L749.0 677.8 L750.7 677.8 L752.3 677.7 L754.0 677.7 L755.7 677.7 L757.3 677.7 L759.0 677.6 L760.6 677.6 L762.3 677.6 L763.9 677.6 L765.6 677.6 L767.3 677.6 L768.9 677.5 L770.6 677.5 L772.2 677.5 L773.9 677.5 L775.6 677.5 L777.2 677.5 L778.9 677.5 L780.5 677.5 L782.2 677.5 L783.8 677.4 L785.5 677.4 L787.2 677.4 L788.8 677.4 L790.5 677.4 L792.1 677.5 L793.8 677.5 L795.5 677.6 L797.1 677.6 L798.8 677.6 L800.4 677.7 L802.1 677.7 L803.7 677.8 L805.4 677.8 L807.1 677.8 L808.7 677.9 L810.4 677.9 L812.0 678.0 L813.7 678.0 L815.3 678.0 L817.0 678.1 L818.7 678.1 L820.3 678.1 L822.0 678.1 L823.6 678.1 L825.3 678.1 L827.0 678.1 L828.6 678.1 L830.3 678.1 L831.9 678.1 L833.6 678.1 L835.2 678.1 L836.9 678.1 L838.6 678.1 L840.2 678.1 L841.9 678.1 L843.5 678.1 L845.2 678.1 L846.9 678.1 L848.5 678.1 L850.2 678.1 L851.8 678.1 L853.5 678.1 L855.1 678.1 L856.8 678.1 L858.5 678.1 L860.1 678.1 L861.8 678.1 L863.4 678.1 L865.1 678.1 L866.8 678.1 L868.4 678.1 L870.1 678.1 L871.7 678.1 L873.4 678.1 L875.0 678.1 L876.7 678.1 L878.4 678.1 L880.0 678.1 L881.7 678.1 L883.3 678.1 L885.0 678.1 L886.6 678.1 L888.3 678.1 L890.0 678.1 L891.6 678.1 L893.3 678.1 L894.9 678.1 L896.6 678.1 L898.3 678.1 L899.9 678.1 L901.6 678.1 L903.2 678.1 L904.9 678.1 L906.5 678.1 L908.2 678.1 L909.9 678.1 L911.5 678.1 L913.2 678.1 L914.8 678.1 L916.5 678.1 L918.2 678.1 L919.8 678.1 L921.5 678.1 L923.1 678.1 L924.8 678.1 L926.4 678.1 L928.1 678.1 L929.8 678.1 L931.4 678.1 L933.1 678.1 L934.7 678.1 L936.4 678.1 L938.0 678.1 L939.7 678.1 L941.4 678.1 L943.0 678.1 L944.7 678.1 L946.3 678.1 L948.0 678.1 L949.7 678.1 L951.3 678.1 L953.0 678.1 L954.6 678.1 L956.3 678.1 L957.9 678.1 L959.6 678.1 L961.3 678.1 L962.9 678.1 L964.6 678.1 L966.2 678.1 L967.9 678.1 L969.6 678.1 L971.2 678.1 L972.9 678.1 L974.5 678.1 L976.2 678.1 L977.8 678.1 L979.5 678.1 L981.2 678.1 L982.8 678.1 L984.5 678.1 L986.1 678.1 L987.8 678.1 L989.5 678.1 L991.1 678.1 L992.8 678.1 L994.4 678.1 L996.1 678.1 L997.7 678.1 L999.4 678.1" fill="none" stroke="#000" stroke-width="3.71" stroke-linejoin="round" stroke-linecap="square"/>
<path d="M172.0 678.12 L999.3 678.12" fill="none" stroke="#000" stroke-width="3.71" stroke-linejoin="round" stroke-linecap="butt" stroke-dasharray="23.72 5.93 3.71 5.93"/>
<path d="M172.0 677.6 L173.7 677.5 L175.3 677.4 L177.0 677.4 L178.6 677.3 L180.3 677.2 L181.9 677.1 L183.6 677.0 L185.3 676.8 L186.9 676.7 L188.6 676.5 L190.2 676.4 L191.9 676.2 L193.6 675.9 L195.2 675.7 L196.9 675.4 L198.5 675.1 L200.2 674.8 L201.8 674.4 L203.5 673.9 L205.2 673.4 L206.8 672.8 L208.5 672.2 L210.1 671.5 L211.8 670.7 L213.4 669.8 L215.1 668.8 L216.8 667.6 L218.4 666.3 L220.1 664.9 L221.8 663.3 L223.6 661.4 L225.3 659.4 L227.0 657.1 L228.8 654.5 L230.5 651.6 L232.3 648.4 L234.1 644.8 L235.9 640.8 L237.7 636.3 L239.6 631.4 L241.4 626.1 L243.0 620.2 L244.6 613.8 L246.1 606.8 L247.6 599.4 L249.1 591.4 L250.6 583.0 L252.1 574.1 L253.7 564.8 L255.3 555.3 L256.8 545.5 L258.5 535.7 L260.3 525.8 L262.1 516.1 L263.9 506.6 L265.7 497.4 L267.6 488.6 L269.4 480.3 L271.3 472.6 L273.1 465.4 L274.9 458.8 L276.7 452.9 L278.5 447.6 L280.2 443.0 L281.8 438.9 L283.5 435.4 L285.2 432.4 L286.9 429.8 L288.6 427.7 L290.2 426.0 L291.9 424.7 L293.6 423.7 L295.2 423.0 L296.9 422.5 L298.5 422.2 L300.2 422.2 L301.9 422.2 L303.5 422.5 L305.2 422.8 L306.8 423.2 L308.4 423.7 L310.0 424.3 L311.6 425.0 L313.1 425.7 L314.7 426.4 L316.3 427.2 L317.8 428.0 L319.4 428.9 L321.0 429.7 L322.5 430.6 L324.1 431.5 L325.7 432.4 L327.2 433.4 L328.8 434.3 L330.4 435.2 L331.9 436.2 L333.5 437.1 L335.1 438.1 L336.6 439.1 L338.2 440.1 L339.8 441.0 L341.3 442.0 L342.9 443.0 L344.5 444.0 L346.1 445.0 L347.7 445.9 L349.4 446.9 L351.1 447.9 L352.7 448.9 L354.4 449.9 L356.0 450.9 L357.7 451.8 L359.3 452.8 L361.0 453.8 L362.7 454.8 L364.3 455.8 L366.0 456.7 L367.6 457.7 L369.3 458.7 L370.9 459.7 L372.6 460.7 L374.3 461.6 L375.9 462.6 L377.6 463.6 L379.2 464.6 L380.9 465.5 L382.6 466.5 L384.2 467.5 L385.9 468.5 L387.5 469.4 L389.2 470.4 L390.8 471.4 L392.5 472.3 L394.2 473.3 L395.8 474.3 L397.5 475.3 L399.1 476.2 L400.8 477.2 L402.5 478.1 L404.1 479.1 L405.8 480.0 L407.4 481.0 L409.1 481.9 L410.7 482.9 L412.4 483.8 L414.1 484.8 L415.7 485.7 L417.4 486.7 L419.0 487.6 L420.7 488.6 L422.3 489.5 L424.0 490.5 L425.7 491.4 L427.3 492.3 L429.0 493.3 L430.6 494.2 L432.3 495.2 L434.0 496.1 L435.6 497.0 L437.3 498.0 L438.9 498.9 L440.6 499.9 L442.2 500.8 L443.9 501.7 L445.6 502.7 L447.2 503.6 L448.9 504.6 L450.5 505.5 L452.2 506.4 L453.8 507.4 L455.5 508.3 L457.2 509.2 L458.8 510.2 L460.5 511.1 L462.1 512.0 L463.8 512.9 L465.5 513.9 L467.1 514.8 L468.8 515.7 L470.4 516.7 L472.1 517.6 L473.7 518.5 L475.4 519.4 L477.1 520.4 L478.7 521.3 L480.4 522.2 L482.0 523.1 L483.7 524.1 L485.3 525.0 L487.0 525.9 L488.7 526.8 L490.3 527.7 L492.0 528.7 L493.6 529.6 L495.3 530.5 L497.0 531.4 L498.6 532.3 L500.3 533.2 L501.9 534.2 L503.6 535.1 L505.2 536.0 L506.9 536.9 L508.6 537.8 L510.2 538.7 L511.9 539.6 L513.5 540.5 L515.2 541.4 L516.8 542.3 L518.5 543.2 L520.2 544.1 L521.8 545.0 L523.5 545.9 L525.1 546.8 L526.8 547.7 L528.5 548.6 L530.1 549.5 L531.8 550.4 L533.4 551.3 L535.1 552.2 L536.7 553.1 L538.4 554.0 L540.1 554.9 L541.7 555.8 L543.4 556.7 L545.0 557.5 L546.7 558.4 L548.3 559.3 L550.0 560.2 L551.7 561.1 L553.3 561.9 L555.0 562.8 L556.6 563.7 L558.3 564.6 L560.0 565.4 L561.6 566.3 L563.3 567.2 L564.9 568.1 L566.6 568.9 L568.2 569.8 L569.9 570.6 L571.6 571.5 L573.2 572.4 L574.9 573.2 L576.5 574.1 L578.2 574.9 L579.8 575.8 L581.5 576.6 L583.2 577.5 L584.8 578.3 L586.5 579.2 L588.1 580.0 L589.8 580.9 L591.5 581.7 L593.1 582.5 L594.8 583.4 L596.4 584.2 L598.1 585.0 L599.7 585.9 L601.4 586.7 L603.1 587.5 L604.7 588.3 L606.4 589.2 L608.0 590.0 L609.7 590.8 L611.3 591.6 L613.0 592.4 L614.7 593.2 L616.3 594.0 L618.0 594.8 L619.6 595.6 L621.3 596.4 L623.0 597.2 L624.6 598.0 L626.3 598.8 L627.9 599.6 L629.6 600.4 L631.2 601.2 L632.9 602.0 L634.6 602.7 L636.2 603.5 L637.9 604.3 L639.5 605.0 L641.2 605.8 L642.8 606.6 L644.5 607.3 L646.2 608.1 L647.8 608.8 L649.5 609.6 L651.1 610.3 L652.8 611.1 L654.5 611.8 L656.1 612.6 L657.8 613.3 L659.4 614.0 L661.1 614.8 L662.7 615.5 L664.4 616.2 L666.1 616.9 L667.7 617.6 L669.4 618.4 L671.0 619.1 L672.7 619.8 L674.3 620.5 L676.0 621.2 L677.7 621.9 L679.3 622.6 L681.0 623.2 L682.6 623.9 L684.3 624.6 L686.0 625.3 L687.6 625.9 L689.3 626.6 L690.9 627.3 L692.6 627.9 L694.2 628.6 L695.9 629.2 L697.6 629.9 L699.2 630.5 L700.9 631.2 L702.5 631.8 L704.2 632.4 L705.8 633.1 L707.5 633.7 L709.2 634.3 L710.8 634.9 L712.5 635.5 L714.1 636.2 L715.8 636.8 L717.5 637.4 L719.1 637.9 L720.8 638.5 L722.4 639.1 L724.1 639.7 L725.7 640.3 L727.4 640.8 L729.1 641.4 L730.7 642.0 L732.4 642.5 L734.0 643.1 L735.7 643.6 L737.3 644.2 L739.0 644.7 L740.7 645.3 L742.3 645.8 L744.0 646.3 L745.6 646.8 L747.3 647.3 L749.0 647.9 L750.6 648.4 L752.3 648.9 L753.9 649.4 L755.6 649.9 L757.2 650.3 L758.9 650.8 L760.6 651.3 L762.2 651.8 L763.9 652.2 L765.5 652.7 L767.2 653.2 L768.8 653.6 L770.5 654.1 L772.2 654.5 L773.8 655.0 L775.5 655.4 L777.1 655.8 L778.8 656.2 L780.5 656.7 L782.1 657.1 L783.8 657.5 L785.4 657.9 L787.1 658.3 L788.7 658.7 L790.4 659.1 L792.1 659.5 L793.7 659.8 L795.4 660.2 L797.0 660.6 L798.7 661.0 L800.4 661.3 L802.0 661.7 L803.7 662.0 L805.3 662.4 L807.0 662.7 L808.6 663.0 L810.3 663.4 L812.0 663.7 L813.6 664.0 L815.3 664.3 L816.9 664.7 L818.6 665.0 L820.2 665.3 L821.9 665.6 L823.6 665.9 L825.2 666.2 L826.9 666.4 L828.5 666.7 L830.2 667.0 L831.9 667.3 L833.5 667.5 L835.2 667.8 L836.8 668.1 L838.5 668.3 L840.1 668.6 L841.8 668.8 L843.5 669.0 L845.1 669.3 L846.8 669.5 L848.4 669.7 L850.1 670.0 L851.7 670.2 L853.4 670.4 L855.1 670.6 L856.7 670.8 L858.4 671.0 L860.0 671.2 L861.7 671.4 L863.4 671.6 L865.0 671.8 L866.7 672.0 L868.3 672.1 L870.0 672.3 L871.6 672.5 L873.3 672.6 L875.0 672.8 L876.6 673.0 L878.3 673.1 L879.9 673.3 L881.6 673.4 L883.2 673.6 L884.9 673.7 L886.6 673.9 L888.2 674.0 L889.9 674.1 L891.5 674.3 L893.2 674.4 L894.9 674.5 L896.5 674.6 L898.2 674.7 L899.8 674.9 L901.5 675.0 L903.1 675.1 L904.8 675.2 L906.5 675.3 L908.1 675.4 L909.8 675.5 L911.4 675.6 L913.1 675.7 L914.7 675.8 L916.4 675.8 L918.1 675.9 L919.7 676.0 L921.4 676.1 L923.0 676.2 L924.7 676.2 L926.4 676.3 L928.0 676.4 L929.7 676.5 L931.3 676.5 L933.0 676.6 L934.6 676.6 L936.3 676.7 L938.0 676.8 L939.6 676.8 L941.3 676.9 L942.9 676.9 L944.6 677.0 L946.2 677.0 L947.9 677.1 L949.6 677.1 L951.2 677.2 L952.9 677.2 L954.5 677.2 L956.2 677.3 L957.9 677.3 L959.5 677.4 L961.2 677.4 L962.8 677.4 L964.5 677.5 L966.1 677.5 L967.8 677.5 L969.5 677.5 L971.1 677.6 L972.8 677.6 L974.4 677.6 L976.1 677.6 L977.7 677.7 L979.4 677.7 L981.1 677.7 L982.7 677.7 L984.4 677.8 L986.0 677.8 L987.7 677.8 L989.4 677.8 L991.0 677.8 L992.7 677.8 L994.3 677.9 L996.0 677.9 L997.6 677.9 L999.3 677.9" fill="none" stroke="#000" stroke-width="18.53" stroke-linejoin="round" stroke-linecap="square" stroke-opacity="0.3"/>
</g>
<path d="M260.02 800.0 v6.90 M828.25 800.0 v6.90" stroke="#000" stroke-width="1.60" fill="none"/>
<path d="M172.00 800.0 v4.10 M204.95 800.0 v4.10 M234.02 800.0 v4.10 M431.07 800.0 v4.10 M531.13 800.0 v4.10 M602.13 800.0 v4.10 M657.19 800.0 v4.10 M702.19 800.0 v4.10 M740.23 800.0 v4.10 M773.18 800.0 v4.10 M802.25 800.0 v4.10 M999.30 800.0 v4.10" stroke="#000" stroke-width="1.30" fill="none"/>
<path d="M172.0 800.00 h-6.90 M172.0 678.12 h-6.90 M172.0 556.25 h-6.90 M172.0 434.38 h-6.90" stroke="#000" stroke-width="1.60" fill="none"/>
<rect x="172.0" y="410.0" width="827.3" height="390.0" fill="none" stroke="#000" stroke-width="1.65"/>
<text x="159.33" y="815.99" font-size="41.3" text-anchor="end">−0.5</text>
<text x="159.33" y="694.12" font-size="41.3" text-anchor="end">0.0</text>
<text x="159.33" y="572.24" font-size="41.3" text-anchor="end">0.5</text>
<text x="159.33" y="450.37" font-size="41.3" text-anchor="end">1.0</text>
<g clip-path="url(#c2)">
<path d="M172.0 843.9 L173.7 844.2 L175.3 844.6 L177.0 845.2 L178.6 845.9 L180.3 846.7 L181.9 847.5 L183.6 848.5 L185.3 849.6 L186.9 850.8 L188.6 852.0 L190.2 853.3 L191.9 854.7 L193.6 856.2 L195.2 857.7 L196.9 859.3 L198.5 861.0 L200.2 862.7 L201.8 864.4 L203.5 866.2 L205.2 868.0 L206.8 869.9 L208.5 871.8 L210.1 873.7 L211.8 875.7 L213.5 877.7 L215.1 879.7 L216.8 881.7 L218.4 883.7 L220.1 885.7 L221.7 887.8 L223.4 889.8 L225.1 891.8 L226.7 893.9 L228.4 895.9 L230.0 897.9 L231.7 899.9 L233.4 901.8 L235.0 903.8 L236.7 905.7 L238.3 907.6 L240.0 909.4 L241.6 911.2 L243.3 913.1 L245.0 914.8 L246.6 916.6 L248.3 918.3 L249.9 920.0 L251.6 921.7 L253.2 923.4 L254.9 925.0 L256.6 926.6 L258.2 928.2 L259.9 929.8 L261.5 931.3 L263.2 932.8 L264.9 934.3 L266.5 935.8 L268.2 937.3 L269.8 938.7 L271.5 940.2 L273.1 941.6 L274.8 943.0 L276.5 944.3 L278.1 945.7 L279.8 947.0 L281.4 948.3 L283.1 949.7 L284.8 950.9 L286.4 952.2 L288.1 953.5 L289.7 954.7 L291.4 956.0 L293.0 957.2 L294.7 958.4 L296.4 959.6 L298.0 960.8 L299.7 961.9 L301.3 963.1 L303.0 964.2 L304.6 965.4 L306.3 966.5 L308.0 967.6 L309.6 968.7 L311.3 969.8 L312.9 970.9 L314.6 972.0 L316.3 973.1 L317.9 974.1 L319.6 975.2 L321.2 976.2 L322.9 977.3 L324.5 978.3 L326.2 979.3 L327.9 980.3 L329.5 981.4 L331.2 982.4 L332.8 983.4 L334.5 984.3 L336.2 985.3 L337.8 986.3 L339.5 987.3 L341.1 988.2 L342.8 989.2 L344.4 990.1 L346.1 991.0 L347.8 991.9 L349.4 992.9 L351.1 993.8 L352.7 994.7 L354.4 995.5 L356.1 996.4 L357.7 997.3 L359.4 998.2 L361.0 999.0 L362.7 999.9 L364.3 1000.7 L366.0 1001.5 L367.7 1002.4 L369.3 1003.2 L371.0 1004.0 L372.6 1004.8 L374.3 1005.6 L375.9 1006.3 L377.6 1007.1 L379.3 1007.9 L380.9 1008.6 L382.6 1009.4 L384.2 1010.1 L385.9 1010.9 L387.6 1011.6 L389.2 1012.3 L390.9 1013.0 L392.5 1013.7 L394.2 1014.4 L395.8 1015.1 L397.5 1015.8 L399.2 1016.5 L400.8 1017.1 L402.5 1017.8 L404.1 1018.5 L405.8 1019.1 L407.5 1019.7 L409.1 1020.4 L410.8 1021.0 L412.4 1021.6 L414.1 1022.2 L415.7 1022.8 L417.4 1023.4 L419.1 1024.0 L420.7 1024.6 L422.4 1025.2 L424.0 1025.8 L425.7 1026.4 L427.3 1026.9 L429.0 1027.5 L430.7 1028.0 L432.3 1028.6 L434.0 1029.1 L435.6 1029.7 L437.3 1030.2 L439.0 1030.7 L440.6 1031.2 L442.3 1031.7 L443.9 1032.2 L445.6 1032.7 L447.2 1033.2 L448.9 1033.7 L450.6 1034.2 L452.2 1034.7 L453.9 1035.2 L455.5 1035.6 L457.2 1036.1 L458.9 1036.5 L460.5 1037.0 L462.2 1037.4 L463.8 1037.9 L465.5 1038.3 L467.1 1038.8 L468.8 1039.2 L470.5 1039.6 L472.1 1040.0 L473.8 1040.5 L475.4 1040.9 L477.1 1041.3 L478.8 1041.7 L480.4 1042.1 L482.1 1042.5 L483.7 1042.9 L485.4 1043.2 L487.0 1043.6 L488.7 1044.0 L490.4 1044.4 L492.0 1044.8 L493.7 1045.1 L495.3 1045.5 L497.0 1045.8 L498.6 1046.2 L500.3 1046.5 L502.0 1046.9 L503.6 1047.2 L505.3 1047.6 L506.9 1047.9 L508.6 1048.3 L510.3 1048.6 L511.9 1048.9 L513.6 1049.2 L515.2 1049.6 L516.9 1049.9 L518.5 1050.2 L520.2 1050.5 L521.9 1050.8 L523.5 1051.1 L525.2 1051.4 L526.8 1051.8 L528.5 1052.1 L530.2 1052.4 L531.8 1052.6 L533.5 1052.9 L535.1 1053.2 L536.8 1053.5 L538.4 1053.8 L540.1 1054.1 L541.8 1054.4 L543.4 1054.7 L545.1 1054.9 L546.7 1055.2 L548.4 1055.5 L550.1 1055.7 L551.7 1056.0 L553.4 1056.3 L555.0 1056.5 L556.7 1056.8 L558.3 1057.1 L560.0 1057.3 L561.7 1057.6 L563.3 1057.8 L565.0 1058.1 L566.6 1058.3 L568.3 1058.6 L569.9 1058.8 L571.6 1059.0 L573.3 1059.3 L574.9 1059.5 L576.6 1059.7 L578.2 1060.0 L579.9 1060.2 L581.6 1060.4 L583.2 1060.7 L584.9 1060.9 L586.5 1061.1 L588.2 1061.3 L589.8 1061.5 L591.5 1061.7 L593.2 1062.0 L594.8 1062.2 L596.5 1062.4 L598.1 1062.6 L599.8 1062.8 L601.5 1063.0 L603.1 1063.2 L604.8 1063.4 L606.4 1063.6 L608.1 1063.8 L609.7 1064.0 L611.4 1064.2 L613.1 1064.3 L614.7 1064.5 L616.4 1064.7 L618.0 1064.9 L619.7 1065.1 L621.3 1065.3 L623.0 1065.4 L624.7 1065.6 L626.3 1065.8 L628.0 1066.0 L629.6 1066.1 L631.3 1066.3 L633.0 1066.5 L634.6 1066.6 L636.3 1066.8 L637.9 1067.0 L639.6 1067.1 L641.2 1067.3 L642.9 1067.4 L644.6 1067.6 L646.2 1067.7 L647.9 1067.9 L649.5 1068.0 L651.2 1068.2 L652.9 1068.3 L654.5 1068.5 L656.2 1068.6 L657.8 1068.8 L659.5 1068.9 L661.1 1069.0 L662.8 1069.2 L664.5 1069.3 L666.1 1069.4 L667.8 1069.6 L669.4 1069.7 L671.1 1069.8 L672.8 1070.0 L674.4 1070.1 L676.1 1070.2 L677.7 1070.3 L679.4 1070.5 L681.0 1070.6 L682.7 1070.7 L684.4 1070.8 L686.0 1070.9 L687.7 1071.0 L689.3 1071.2 L691.0 1071.3 L692.6 1071.4 L694.3 1071.5 L696.0 1071.6 L697.6 1071.7 L699.3 1071.8 L700.9 1071.9 L702.6 1072.0 L704.3 1072.1 L705.9 1072.2 L707.6 1072.3 L709.2 1072.4 L710.9 1072.5 L712.5 1072.6 L714.2 1072.7 L715.9 1072.8 L717.5 1072.9 L719.2 1073.0 L720.8 1073.1 L722.5 1073.2 L724.2 1073.3 L725.8 1073.3 L727.5 1073.4 L729.1 1073.5 L730.8 1073.6 L732.4 1073.7 L734.1 1073.8 L735.8 1073.9 L737.4 1073.9 L739.1 1074.0 L740.7 1074.1 L742.4 1074.2 L744.1 1074.2 L745.7 1074.3 L747.4 1074.4 L749.0 1074.5 L750.7 1074.5 L752.3 1074.6 L754.0 1074.7 L755.7 1074.8 L757.3 1074.8 L759.0 1074.9 L760.6 1075.0 L762.3 1075.0 L763.9 1075.1 L765.6 1075.2 L767.3 1075.2 L768.9 1075.3 L770.6 1075.3 L772.2 1075.4 L773.9 1075.5 L775.6 1075.5 L777.2 1075.6 L778.9 1075.6 L780.5 1075.7 L782.2 1075.8 L783.8 1075.8 L785.5 1075.9 L787.2 1075.9 L788.8 1076.0 L790.5 1076.0 L792.1 1076.1 L793.8 1076.1 L795.5 1076.2 L797.1 1076.3 L798.8 1076.3 L800.4 1076.4 L802.1 1076.4 L803.7 1076.5 L805.4 1076.5 L807.1 1076.6 L808.7 1076.6 L810.4 1076.7 L812.0 1076.7 L813.7 1076.8 L815.3 1076.8 L817.0 1076.8 L818.7 1076.9 L820.3 1076.9 L822.0 1077.0 L823.6 1077.0 L825.3 1077.1 L827.0 1077.1 L828.6 1077.2 L830.3 1077.2 L831.9 1077.2 L833.6 1077.3 L835.2 1077.3 L836.9 1077.4 L838.6 1077.4 L840.2 1077.5 L841.9 1077.5 L843.5 1077.5 L845.2 1077.6 L846.9 1077.6 L848.5 1077.7 L850.2 1077.7 L851.8 1077.8 L853.5 1077.8 L855.1 1077.8 L856.8 1077.9 L858.5 1077.9 L860.1 1078.0 L861.8 1078.0 L863.4 1078.0 L865.1 1078.1 L866.8 1078.1 L868.4 1078.2 L870.1 1078.2 L871.7 1078.2 L873.4 1078.3 L875.0 1078.3 L876.7 1078.4 L878.4 1078.4 L880.0 1078.4 L881.7 1078.5 L883.3 1078.5 L885.0 1078.6 L886.6 1078.6 L888.3 1078.6 L890.0 1078.7 L891.6 1078.7 L893.3 1078.8 L894.9 1078.8 L896.6 1078.8 L898.3 1078.9 L899.9 1078.9 L901.6 1079.0 L903.2 1079.0 L904.9 1079.1 L906.5 1079.1 L908.2 1079.1 L909.9 1079.2 L911.5 1079.2 L913.2 1079.3 L914.8 1079.3 L916.5 1079.4 L918.2 1079.4 L919.8 1079.5 L921.5 1079.5 L923.1 1079.5 L924.8 1079.6 L926.4 1079.6 L928.1 1079.7 L929.8 1079.7 L931.4 1079.8 L933.1 1079.8 L934.7 1079.9 L936.4 1079.9 L938.0 1080.0 L939.7 1080.0 L941.4 1080.1 L943.0 1080.1 L944.7 1080.2 L946.3 1080.2 L948.0 1080.3 L949.7 1080.3 L951.3 1080.4 L953.0 1080.4 L954.6 1080.5 L956.3 1080.6 L957.9 1080.6 L959.6 1080.7 L961.3 1080.7 L962.9 1080.8 L964.6 1080.8 L966.2 1080.9 L967.9 1081.0 L969.6 1081.0 L971.2 1081.1 L972.9 1081.2 L974.5 1081.2 L976.2 1081.3 L977.8 1081.3 L979.5 1081.4 L981.2 1081.5 L982.8 1081.5 L984.5 1081.6 L986.1 1081.7 L987.8 1081.7 L989.5 1081.8 L991.1 1081.9 L992.8 1082.0 L994.4 1082.0 L996.1 1082.1 L997.7 1082.2 L999.4 1082.3" fill="none" stroke="#000" stroke-width="3.71" stroke-linejoin="round" stroke-linecap="square"/>
<path d="M172.0 1087.62 L999.3 1087.62" fill="none" stroke="#000" stroke-width="3.71" stroke-linejoin="round" stroke-linecap="butt" stroke-dasharray="23.72 5.93 3.71 5.93"/>
<path d="M172.0 1087.1 L173.7 1087.0 L175.3 1086.9 L177.0 1086.9 L178.6 1086.8 L180.3 1086.7 L181.9 1086.6 L183.6 1086.5 L185.3 1086.3 L186.9 1086.2 L188.6 1086.0 L190.2 1085.9 L191.9 1085.7 L193.6 1085.4 L195.2 1085.2 L196.9 1084.9 L198.5 1084.6 L200.2 1084.3 L201.8 1083.9 L203.5 1083.4 L205.2 1082.9 L206.8 1082.3 L208.5 1081.7 L210.1 1081.0 L211.8 1080.2 L213.4 1079.3 L215.1 1078.3 L216.8 1077.1 L218.4 1075.8 L220.1 1074.4 L221.8 1072.8 L223.6 1070.9 L225.3 1068.9 L227.0 1066.6 L228.8 1064.0 L230.5 1061.1 L232.3 1057.9 L234.1 1054.3 L235.9 1050.3 L237.7 1045.8 L239.6 1040.9 L241.4 1035.6 L243.0 1029.7 L244.6 1023.3 L246.1 1016.3 L247.6 1008.9 L249.1 1000.9 L250.6 992.5 L252.1 983.6 L253.7 974.3 L255.3 964.8 L256.8 955.0 L258.5 945.2 L260.3 935.3 L262.1 925.6 L263.9 916.1 L265.7 906.9 L267.6 898.1 L269.4 889.8 L271.3 882.1 L273.1 874.9 L274.9 868.3 L276.7 862.4 L278.5 857.1 L280.2 852.5 L281.8 848.4 L283.5 844.9 L285.2 841.9 L286.9 839.3 L288.6 837.2 L290.2 835.5 L291.9 834.2 L293.6 833.2 L295.2 832.5 L296.9 832.0 L298.5 831.7 L300.2 831.7 L301.9 831.7 L303.5 832.0 L305.2 832.3 L306.8 832.7 L308.4 833.2 L310.0 833.8 L311.6 834.5 L313.1 835.2 L314.7 835.9 L316.3 836.7 L317.8 837.5 L319.4 838.4 L321.0 839.2 L322.5 840.1 L324.1 841.0 L325.7 841.9 L327.2 842.9 L328.8 843.8 L330.4 844.7 L331.9 845.7 L333.5 846.6 L335.1 847.6 L336.6 848.6 L338.2 849.6 L339.8 850.5 L341.3 851.5 L342.9 852.5 L344.5 853.5 L346.1 854.5 L347.7 855.4 L349.4 856.4 L351.1 857.4 L352.7 858.4 L354.4 859.4 L356.0 860.4 L357.7 861.3 L359.3 862.3 L361.0 863.3 L362.7 864.3 L364.3 865.3 L366.0 866.2 L367.6 867.2 L369.3 868.2 L370.9 869.2 L372.6 870.2 L374.3 871.1 L375.9 872.1 L377.6 873.1 L379.2 874.1 L380.9 875.0 L382.6 876.0 L384.2 877.0 L385.9 878.0 L387.5 878.9 L389.2 879.9 L390.8 880.9 L392.5 881.8 L394.2 882.8 L395.8 883.8 L397.5 884.8 L399.1 885.7 L400.8 886.7 L402.5 887.6 L404.1 888.6 L405.8 889.5 L407.4 890.5 L409.1 891.4 L410.7 892.4 L412.4 893.3 L414.1 894.3 L415.7 895.2 L417.4 896.2 L419.0 897.1 L420.7 898.1 L422.3 899.0 L424.0 900.0 L425.7 900.9 L427.3 901.8 L429.0 902.8 L430.6 903.7 L432.3 904.7 L434.0 905.6 L435.6 906.5 L437.3 907.5 L438.9 908.4 L440.6 909.4 L442.2 910.3 L443.9 911.2 L445.6 912.2 L447.2 913.1 L448.9 914.1 L450.5 915.0 L452.2 915.9 L453.8 916.9 L455.5 917.8 L457.2 918.7 L458.8 919.7 L460.5 920.6 L462.1 921.5 L463.8 922.4 L465.5 923.4 L467.1 924.3 L468.8 925.2 L470.4 926.2 L472.1 927.1 L473.7 928.0 L475.4 928.9 L477.1 929.9 L478.7 930.8 L480.4 931.7 L482.0 932.6 L483.7 933.6 L485.3 934.5 L487.0 935.4 L488.7 936.3 L490.3 937.2 L492.0 938.2 L493.6 939.1 L495.3 940.0 L497.0 940.9 L498.6 941.8 L500.3 942.7 L501.9 943.7 L503.6 944.6 L505.2 945.5 L506.9 946.4 L508.6 947.3 L510.2 948.2 L511.9 949.1 L513.5 950.0 L515.2 950.9 L516.8 951.8 L518.5 952.7 L520.2 953.6 L521.8 954.5 L523.5 955.4 L525.1 956.3 L526.8 957.2 L528.5 958.1 L530.1 959.0 L531.8 959.9 L533.4 960.8 L535.1 961.7 L536.7 962.6 L538.4 963.5 L540.1 964.4 L541.7 965.3 L543.4 966.2 L545.0 967.0 L546.7 967.9 L548.3 968.8 L550.0 969.7 L551.7 970.6 L553.3 971.4 L555.0 972.3 L556.6 973.2 L558.3 974.1 L560.0 974.9 L561.6 975.8 L563.3 976.7 L564.9 977.6 L566.6 978.4 L568.2 979.3 L569.9 980.1 L571.6 981.0 L573.2 981.9 L574.9 982.7 L576.5 983.6 L578.2 984.4 L579.8 985.3 L581.5 986.1 L583.2 987.0 L584.8 987.8 L586.5 988.7 L588.1 989.5 L589.8 990.4 L591.5 991.2 L593.1 992.0 L594.8 992.9 L596.4 993.7 L598.1 994.5 L599.7 995.4 L601.4 996.2 L603.1 997.0 L604.7 997.8 L606.4 998.7 L608.0 999.5 L609.7 1000.3 L611.3 1001.1 L613.0 1001.9 L614.7 1002.7 L616.3 1003.5 L618.0 1004.3 L619.6 1005.1 L621.3 1005.9 L623.0 1006.7 L624.6 1007.5 L626.3 1008.3 L627.9 1009.1 L629.6 1009.9 L631.2 1010.7 L632.9 1011.5 L634.6 1012.2 L636.2 1013.0 L637.9 1013.8 L639.5 1014.5 L641.2 1015.3 L642.8 1016.1 L644.5 1016.8 L646.2 1017.6 L647.8 1018.3 L649.5 1019.1 L651.1 1019.8 L652.8 1020.6 L654.5 1021.3 L656.1 1022.1 L657.8 1022.8 L659.4 1023.5 L661.1 1024.3 L662.7 1025.0 L664.4 1025.7 L666.1 1026.4 L667.7 1027.1 L669.4 1027.9 L671.0 1028.6 L672.7 1029.3 L674.3 1030.0 L676.0 1030.7 L677.7 1031.4 L679.3 1032.1 L681.0 1032.7 L682.6 1033.4 L684.3 1034.1 L686.0 1034.8 L687.6 1035.4 L689.3 1036.1 L690.9 1036.8 L692.6 1037.4 L694.2 1038.1 L695.9 1038.7 L697.6 1039.4 L699.2 1040.0 L700.9 1040.7 L702.5 1041.3 L704.2 1041.9 L705.8 1042.6 L707.5 1043.2 L709.2 1043.8 L710.8 1044.4 L712.5 1045.0 L714.1 1045.7 L715.8 1046.3 L717.5 1046.9 L719.1 1047.4 L720.8 1048.0 L722.4 1048.6 L724.1 1049.2 L725.7 1049.8 L727.4 1050.3 L729.1 1050.9 L730.7 1051.5 L732.4 1052.0 L734.0 1052.6 L735.7 1053.1 L737.3 1053.7 L739.0 1054.2 L740.7 1054.8 L742.3 1055.3 L744.0 1055.8 L745.6 1056.3 L747.3 1056.8 L749.0 1057.4 L750.6 1057.9 L752.3 1058.4 L753.9 1058.9 L755.6 1059.4 L757.2 1059.8 L758.9 1060.3 L760.6 1060.8 L762.2 1061.3 L763.9 1061.7 L765.5 1062.2 L767.2 1062.7 L768.8 1063.1 L770.5 1063.6 L772.2 1064.0 L773.8 1064.5 L775.5 1064.9 L777.1 1065.3 L778.8 1065.7 L780.5 1066.2 L782.1 1066.6 L783.8 1067.0 L785.4 1067.4 L787.1 1067.8 L788.7 1068.2 L790.4 1068.6 L792.1 1069.0 L793.7 1069.3 L795.4 1069.7 L797.0 1070.1 L798.7 1070.5 L800.4 1070.8 L802.0 1071.2 L803.7 1071.5 L805.3 1071.9 L807.0 1072.2 L808.6 1072.5 L810.3 1072.9 L812.0 1073.2 L813.6 1073.5 L815.3 1073.8 L816.9 1074.2 L818.6 1074.5 L820.2 1074.8 L821.9 1075.1 L823.6 1075.4 L825.2 1075.7 L826.9 1075.9 L828.5 1076.2 L830.2 1076.5 L831.9 1076.8 L833.5 1077.0 L835.2 1077.3 L836.8 1077.6 L838.5 1077.8 L840.1 1078.1 L841.8 1078.3 L843.5 1078.5 L845.1 1078.8 L846.8 1079.0 L848.4 1079.2 L850.1 1079.5 L851.7 1079.7 L853.4 1079.9 L855.1 1080.1 L856.7 1080.3 L858.4 1080.5 L860.0 1080.7 L861.7 1080.9 L863.4 1081.1 L865.0 1081.3 L866.7 1081.5 L868.3 1081.6 L870.0 1081.8 L871.6 1082.0 L873.3 1082.1 L875.0 1082.3 L876.6 1082.5 L878.3 1082.6 L879.9 1082.8 L881.6 1082.9 L883.2 1083.1 L884.9 1083.2 L886.6 1083.4 L888.2 1083.5 L889.9 1083.6 L891.5 1083.8 L893.2 1083.9 L894.9 1084.0 L896.5 1084.1 L898.2 1084.2 L899.8 1084.4 L901.5 1084.5 L903.1 1084.6 L904.8 1084.7 L906.5 1084.8 L908.1 1084.9 L909.8 1085.0 L911.4 1085.1 L913.1 1085.2 L914.7 1085.3 L916.4 1085.3 L918.1 1085.4 L919.7 1085.5 L921.4 1085.6 L923.0 1085.7 L924.7 1085.7 L926.4 1085.8 L928.0 1085.9 L929.7 1086.0 L931.3 1086.0 L933.0 1086.1 L934.6 1086.1 L936.3 1086.2 L938.0 1086.3 L939.6 1086.3 L941.3 1086.4 L942.9 1086.4 L944.6 1086.5 L946.2 1086.5 L947.9 1086.6 L949.6 1086.6 L951.2 1086.7 L952.9 1086.7 L954.5 1086.7 L956.2 1086.8 L957.9 1086.8 L959.5 1086.9 L961.2 1086.9 L962.8 1086.9 L964.5 1087.0 L966.1 1087.0 L967.8 1087.0 L969.5 1087.0 L971.1 1087.1 L972.8 1087.1 L974.4 1087.1 L976.1 1087.1 L977.7 1087.2 L979.4 1087.2 L981.1 1087.2 L982.7 1087.2 L984.4 1087.3 L986.0 1087.3 L987.7 1087.3 L989.4 1087.3 L991.0 1087.3 L992.7 1087.3 L994.3 1087.4 L996.0 1087.4 L997.6 1087.4 L999.3 1087.4" fill="none" stroke="#000" stroke-width="18.53" stroke-linejoin="round" stroke-linecap="square" stroke-opacity="0.3"/>
</g>
<path d="M260.02 1209.5 v6.90 M828.25 1209.5 v6.90" stroke="#000" stroke-width="1.60" fill="none"/>
<path d="M172.00 1209.5 v4.10 M204.95 1209.5 v4.10 M234.02 1209.5 v4.10 M431.07 1209.5 v4.10 M531.13 1209.5 v4.10 M602.13 1209.5 v4.10 M657.19 1209.5 v4.10 M702.19 1209.5 v4.10 M740.23 1209.5 v4.10 M773.18 1209.5 v4.10 M802.25 1209.5 v4.10 M999.30 1209.5 v4.10" stroke="#000" stroke-width="1.30" fill="none"/>
<path d="M172.0 1209.50 h-6.90 M172.0 1087.62 h-6.90 M172.0 965.75 h-6.90 M172.0 843.88 h-6.90" stroke="#000" stroke-width="1.60" fill="none"/>
<rect x="172.0" y="819.5" width="827.3" height="390.0" fill="none" stroke="#000" stroke-width="1.65"/>
<text x="159.33" y="1225.49" font-size="41.3" text-anchor="end">−0.5</text>
<text x="159.33" y="1103.62" font-size="41.3" text-anchor="end">0.0</text>
<text x="159.33" y="981.74" font-size="41.3" text-anchor="end">0.5</text>
<text x="159.33" y="859.87" font-size="41.3" text-anchor="end">1.0</text>
<text transform="translate(686.43 352.50)" font-size="48.40"><tspan x="0.00" y="-0.38" font-style="oblique">M</tspan><tspan x="41.74" y="7.50" font-size="33.88">d</tspan><tspan x="73.97" y="-0.38">=</tspan><tspan x="123.93" y="-0.38">0.15</tspan><tspan x="231.64" y="-0.38" font-style="oblique">M</tspan><tspan x="273.37" y="7.50" font-size="33.88">★</tspan></text>
<text transform="translate(686.43 761.90)" font-size="48.40"><tspan x="0.00" y="-0.38" font-style="oblique">M</tspan><tspan x="41.74" y="7.50" font-size="33.88">d</tspan><tspan x="73.97" y="-0.38">=</tspan><tspan x="123.93" y="-0.38">0.05</tspan><tspan x="231.64" y="-0.38" font-style="oblique">M</tspan><tspan x="273.37" y="7.50" font-size="33.88">★</tspan></text>
<text transform="translate(680.73 1175.50)" font-size="48.40"><tspan x="0.00" y="-0.69" font-style="oblique">M</tspan><tspan x="41.74" y="7.19" font-size="33.88">d</tspan><tspan x="73.97" y="-0.69">=</tspan><tspan x="123.93" y="-0.69">10</tspan><tspan x="185.94" y="-19.06" font-size="33.88">−</tspan><tspan x="214.31" y="-19.06" font-size="33.88">3</tspan><tspan x="237.17" y="-0.69" font-style="oblique">M</tspan><tspan x="278.91" y="7.19" font-size="33.88">★</tspan></text>
<rect x="712.2" y="20.7" width="266.8" height="132" rx="7" ry="7" fill="#fff" fill-opacity="0.8" stroke="#ccc" stroke-width="1.85"/>
<path d="M727.95 53.9 H809.47" stroke="#000" stroke-width="3.71" stroke-linecap="square"/>
<path d="M727.95 113.7 H809.47" stroke="#000" stroke-width="3.71" stroke-dasharray="13.71 5.93"/>
<text transform="translate(842.90 69.40)" font-size="40.76"><tspan x="0.00" y="-0.89" font-style="oblique">ℜ</tspan><tspan x="33.17" y="-0.89">(</tspan><tspan x="49.07" y="-0.89" font-style="oblique">E</tspan><tspan x="74.81" y="5.84" font-size="28.53">m</tspan><tspan x="103.72" y="-0.89">)</tspan></text>
<text transform="translate(842.90 129.20)" font-size="40.76"><tspan x="0.00" y="-0.89" font-style="oblique">ℑ</tspan><tspan x="28.41" y="-0.89">(</tspan><tspan x="44.31" y="-0.89" font-style="oblique">E</tspan><tspan x="70.06" y="5.84" font-size="28.53">m</tspan><tspan x="98.97" y="-0.89">)</tspan></text>
<text transform="translate(223.52 1254.60)" font-size="41.30"><tspan x="0.00" y="-1.00">10</tspan><tspan x="52.88" y="-16.69" font-size="28.91">0</tspan></text>
<text transform="translate(791.75 1254.60)" font-size="41.30"><tspan x="0.00" y="-0.38">10</tspan><tspan x="52.88" y="-16.08" font-size="28.91">1</tspan></text>
<text transform="translate(529.25 1300.80)" font-size="41.00"><tspan x="0.00" y="-0.84" font-style="oblique">r  </tspan><tspan x="43.48" y="-0.84">[</tspan><tspan x="59.48" y="-0.84" font-style="oblique">r</tspan><tspan x="76.33" y="5.88" font-size="28.70">0</tspan><tspan x="95.72" y="-0.84">]</tspan></text>
<text transform="translate(43.90 921.50) rotate(-90)" font-size="40.85"><tspan x="0.00" y="-0.84">unnormalized </tspan><tspan x="292.65" y="-0.84" font-style="oblique">ℜ</tspan><tspan x="325.92" y="-0.84">(</tspan><tspan x="341.87" y="-0.84" font-style="oblique">E</tspan><tspan x="367.70" y="5.88" font-size="28.59">m</tspan><tspan x="396.69" y="-0.84">)</tspan><tspan x="412.64" y="-0.84"> </tspan><tspan x="425.63" y="-0.84">and </tspan><tspan x="515.52" y="-0.84" font-style="oblique">ℑ</tspan><tspan x="544.02" y="-0.84">(</tspan><tspan x="559.97" y="-0.84" font-style="oblique">E</tspan><tspan x="585.80" y="5.88" font-size="28.59">m</tspan><tspan x="614.79" y="-0.84">)</tspan></text>
</svg>
</body></html>
